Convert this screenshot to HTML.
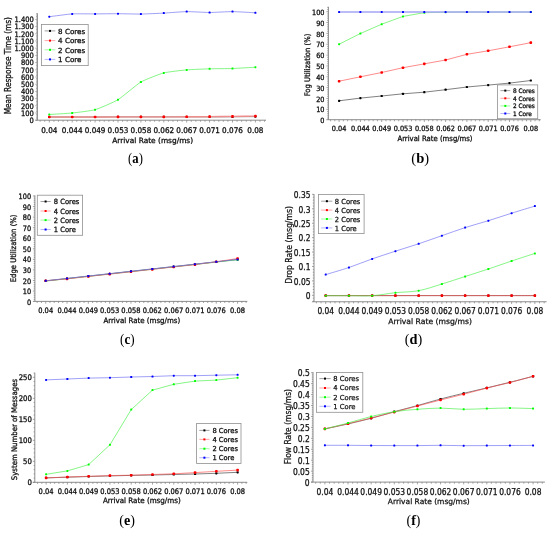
<!DOCTYPE html>
<html><head><meta charset="utf-8"><title>Figure</title>
<style>html,body{margin:0;padding:0;background:#fff;}svg{display:block;}</style>
</head><body>
<svg width="550" height="533" viewBox="0 0 550 533">
<rect width="550" height="533" fill="#fff"/>
<line x1="37.4" y1="13.3" x2="37.4" y2="120.2" stroke="#808080" stroke-width="0.9"/>
<line x1="35.4" y1="120.2" x2="266" y2="120.2" stroke="#808080" stroke-width="0.9"/>
<path d="M35.4,120.2h2 M36.2,118.76h1.2 M36.2,117.32h1.2 M36.2,115.88h1.2 M36.2,114.44h1.2 M35.4,113h2 M36.2,111.56h1.2 M36.2,110.12h1.2 M36.2,108.68h1.2 M36.2,107.24h1.2 M35.4,105.8h2 M36.2,104.36h1.2 M36.2,102.92h1.2 M36.2,101.48h1.2 M36.2,100.04h1.2 M35.4,98.6h2 M36.2,97.16h1.2 M36.2,95.72h1.2 M36.2,94.28h1.2 M36.2,92.84h1.2 M35.4,91.4h2 M36.2,89.96h1.2 M36.2,88.52h1.2 M36.2,87.08h1.2 M36.2,85.64h1.2 M35.4,84.2h2 M36.2,82.76h1.2 M36.2,81.32h1.2 M36.2,79.88h1.2 M36.2,78.44h1.2 M35.4,77h2 M36.2,75.56h1.2 M36.2,74.12h1.2 M36.2,72.68h1.2 M36.2,71.24h1.2 M35.4,69.8h2 M36.2,68.36h1.2 M36.2,66.92h1.2 M36.2,65.48h1.2 M36.2,64.04h1.2 M35.4,62.6h2 M36.2,61.16h1.2 M36.2,59.72h1.2 M36.2,58.28h1.2 M36.2,56.84h1.2 M35.4,55.4h2 M36.2,53.96h1.2 M36.2,52.52h1.2 M36.2,51.08h1.2 M36.2,49.64h1.2 M35.4,48.2h2 M36.2,46.76h1.2 M36.2,45.32h1.2 M36.2,43.88h1.2 M36.2,42.44h1.2 M35.4,41h2 M36.2,39.56h1.2 M36.2,38.12h1.2 M36.2,36.68h1.2 M36.2,35.24h1.2 M35.4,33.8h2 M36.2,32.36h1.2 M36.2,30.92h1.2 M36.2,29.48h1.2 M36.2,28.04h1.2 M35.4,26.6h2 M36.2,25.16h1.2 M36.2,23.72h1.2 M36.2,22.28h1.2 M36.2,20.84h1.2 M35.4,19.4h2 M36.2,17.96h1.2 M36.2,16.52h1.2 M36.2,15.08h1.2 M36.2,13.64h1.2 M40.14,120.2v1.6 M44.72,120.2v1.6 M49.3,120.2v2.3 M53.88,120.2v1.6 M58.46,120.2v1.6 M63.04,120.2v1.6 M67.62,120.2v1.6 M72.2,120.2v2.3 M76.78,120.2v1.6 M81.36,120.2v1.6 M85.94,120.2v1.6 M90.52,120.2v1.6 M95.1,120.2v2.3 M99.68,120.2v1.6 M104.26,120.2v1.6 M108.84,120.2v1.6 M113.42,120.2v1.6 M118,120.2v2.3 M122.58,120.2v1.6 M127.16,120.2v1.6 M131.74,120.2v1.6 M136.32,120.2v1.6 M140.9,120.2v2.3 M145.48,120.2v1.6 M150.06,120.2v1.6 M154.64,120.2v1.6 M159.22,120.2v1.6 M163.8,120.2v2.3 M168.38,120.2v1.6 M172.96,120.2v1.6 M177.54,120.2v1.6 M182.12,120.2v1.6 M186.7,120.2v2.3 M191.28,120.2v1.6 M195.86,120.2v1.6 M200.44,120.2v1.6 M205.02,120.2v1.6 M209.6,120.2v2.3 M214.18,120.2v1.6 M218.76,120.2v1.6 M223.34,120.2v1.6 M227.92,120.2v1.6 M232.5,120.2v2.3 M237.08,120.2v1.6 M241.66,120.2v1.6 M246.24,120.2v1.6 M250.82,120.2v1.6 M255.4,120.2v2.3 M259.98,120.2v1.6 M264.56,120.2v1.6" stroke="#808080" stroke-width="0.7" fill="none"/>
<text x="33.8" y="122.9" text-anchor="end" font-family="'DejaVu Sans Condensed', 'DejaVu Sans', sans-serif" font-size="7.5" fill="#111" stroke="#111" stroke-width="0.3" textLength="4.29" lengthAdjust="spacingAndGlyphs">0</text>
<text x="33.8" y="115.7" text-anchor="end" font-family="'DejaVu Sans Condensed', 'DejaVu Sans', sans-serif" font-size="7.5" fill="#111" stroke="#111" stroke-width="0.3" textLength="12.88" lengthAdjust="spacingAndGlyphs">100</text>
<text x="33.8" y="108.5" text-anchor="end" font-family="'DejaVu Sans Condensed', 'DejaVu Sans', sans-serif" font-size="7.5" fill="#111" stroke="#111" stroke-width="0.3" textLength="12.88" lengthAdjust="spacingAndGlyphs">200</text>
<text x="33.8" y="101.3" text-anchor="end" font-family="'DejaVu Sans Condensed', 'DejaVu Sans', sans-serif" font-size="7.5" fill="#111" stroke="#111" stroke-width="0.3" textLength="12.88" lengthAdjust="spacingAndGlyphs">300</text>
<text x="33.8" y="94.1" text-anchor="end" font-family="'DejaVu Sans Condensed', 'DejaVu Sans', sans-serif" font-size="7.5" fill="#111" stroke="#111" stroke-width="0.3" textLength="12.88" lengthAdjust="spacingAndGlyphs">400</text>
<text x="33.8" y="86.9" text-anchor="end" font-family="'DejaVu Sans Condensed', 'DejaVu Sans', sans-serif" font-size="7.5" fill="#111" stroke="#111" stroke-width="0.3" textLength="12.88" lengthAdjust="spacingAndGlyphs">500</text>
<text x="33.8" y="79.7" text-anchor="end" font-family="'DejaVu Sans Condensed', 'DejaVu Sans', sans-serif" font-size="7.5" fill="#111" stroke="#111" stroke-width="0.3" textLength="12.88" lengthAdjust="spacingAndGlyphs">600</text>
<text x="33.8" y="72.5" text-anchor="end" font-family="'DejaVu Sans Condensed', 'DejaVu Sans', sans-serif" font-size="7.5" fill="#111" stroke="#111" stroke-width="0.3" textLength="12.88" lengthAdjust="spacingAndGlyphs">700</text>
<text x="33.8" y="65.3" text-anchor="end" font-family="'DejaVu Sans Condensed', 'DejaVu Sans', sans-serif" font-size="7.5" fill="#111" stroke="#111" stroke-width="0.3" textLength="12.88" lengthAdjust="spacingAndGlyphs">800</text>
<text x="33.8" y="58.1" text-anchor="end" font-family="'DejaVu Sans Condensed', 'DejaVu Sans', sans-serif" font-size="7.5" fill="#111" stroke="#111" stroke-width="0.3" textLength="12.88" lengthAdjust="spacingAndGlyphs">900</text>
<text x="33.8" y="50.9" text-anchor="end" font-family="'DejaVu Sans Condensed', 'DejaVu Sans', sans-serif" font-size="7.5" fill="#111" stroke="#111" stroke-width="0.3" textLength="19.31" lengthAdjust="spacingAndGlyphs">1.000</text>
<text x="33.8" y="43.7" text-anchor="end" font-family="'DejaVu Sans Condensed', 'DejaVu Sans', sans-serif" font-size="7.5" fill="#111" stroke="#111" stroke-width="0.3" textLength="19.31" lengthAdjust="spacingAndGlyphs">1.100</text>
<text x="33.8" y="36.5" text-anchor="end" font-family="'DejaVu Sans Condensed', 'DejaVu Sans', sans-serif" font-size="7.5" fill="#111" stroke="#111" stroke-width="0.3" textLength="19.31" lengthAdjust="spacingAndGlyphs">1.200</text>
<text x="33.8" y="29.3" text-anchor="end" font-family="'DejaVu Sans Condensed', 'DejaVu Sans', sans-serif" font-size="7.5" fill="#111" stroke="#111" stroke-width="0.3" textLength="19.31" lengthAdjust="spacingAndGlyphs">1.300</text>
<text x="33.8" y="22.1" text-anchor="end" font-family="'DejaVu Sans Condensed', 'DejaVu Sans', sans-serif" font-size="7.5" fill="#111" stroke="#111" stroke-width="0.3" textLength="19.31" lengthAdjust="spacingAndGlyphs">1.400</text>
<text x="49.3" y="132.6" text-anchor="middle" font-family="'DejaVu Sans Condensed', 'DejaVu Sans', sans-serif" font-size="7.77" fill="#111" stroke="#111" stroke-width="0.3" textLength="16.12" lengthAdjust="spacingAndGlyphs">0.04</text>
<text x="72.2" y="132.6" text-anchor="middle" font-family="'DejaVu Sans Condensed', 'DejaVu Sans', sans-serif" font-size="7.77" fill="#111" stroke="#111" stroke-width="0.3" textLength="20.73" lengthAdjust="spacingAndGlyphs">0.044</text>
<text x="95.1" y="132.6" text-anchor="middle" font-family="'DejaVu Sans Condensed', 'DejaVu Sans', sans-serif" font-size="7.77" fill="#111" stroke="#111" stroke-width="0.3" textLength="20.73" lengthAdjust="spacingAndGlyphs">0.049</text>
<text x="118" y="132.6" text-anchor="middle" font-family="'DejaVu Sans Condensed', 'DejaVu Sans', sans-serif" font-size="7.77" fill="#111" stroke="#111" stroke-width="0.3" textLength="20.73" lengthAdjust="spacingAndGlyphs">0.053</text>
<text x="140.9" y="132.6" text-anchor="middle" font-family="'DejaVu Sans Condensed', 'DejaVu Sans', sans-serif" font-size="7.77" fill="#111" stroke="#111" stroke-width="0.3" textLength="20.73" lengthAdjust="spacingAndGlyphs">0.058</text>
<text x="163.8" y="132.6" text-anchor="middle" font-family="'DejaVu Sans Condensed', 'DejaVu Sans', sans-serif" font-size="7.77" fill="#111" stroke="#111" stroke-width="0.3" textLength="20.73" lengthAdjust="spacingAndGlyphs">0.062</text>
<text x="186.7" y="132.6" text-anchor="middle" font-family="'DejaVu Sans Condensed', 'DejaVu Sans', sans-serif" font-size="7.77" fill="#111" stroke="#111" stroke-width="0.3" textLength="20.73" lengthAdjust="spacingAndGlyphs">0.067</text>
<text x="209.6" y="132.6" text-anchor="middle" font-family="'DejaVu Sans Condensed', 'DejaVu Sans', sans-serif" font-size="7.77" fill="#111" stroke="#111" stroke-width="0.3" textLength="20.73" lengthAdjust="spacingAndGlyphs">0.071</text>
<text x="232.5" y="132.6" text-anchor="middle" font-family="'DejaVu Sans Condensed', 'DejaVu Sans', sans-serif" font-size="7.77" fill="#111" stroke="#111" stroke-width="0.3" textLength="20.73" lengthAdjust="spacingAndGlyphs">0.076</text>
<text x="255.4" y="132.6" text-anchor="middle" font-family="'DejaVu Sans Condensed', 'DejaVu Sans', sans-serif" font-size="7.77" fill="#111" stroke="#111" stroke-width="0.3" textLength="16.12" lengthAdjust="spacingAndGlyphs">0.08</text>
<text x="152.7" y="143" text-anchor="middle" font-family="'DejaVu Sans', sans-serif" font-size="7.4" fill="#111" stroke="#111" stroke-width="0.3" textLength="80.81" lengthAdjust="spacingAndGlyphs">Arrival Rate (msg/ms)</text>
<text transform="translate(10.6,65.7) rotate(-90)" x="0" y="0" text-anchor="middle" font-family="'DejaVu Sans', sans-serif" font-size="8" fill="#111" stroke="#111" stroke-width="0.3" textLength="97.18" lengthAdjust="spacingAndGlyphs">Mean Response Time (ms)</text>
<text x="128.1" y="163" font-family="'Liberation Serif', 'DejaVu Serif', serif" font-size="14.3" fill="#000" textLength="14.8" lengthAdjust="spacingAndGlyphs">(<tspan font-weight="bold">a</tspan>)</text>
<path d="M49.3,117 C51.21,117 68.38,117 72.2,117 C76.02,117 91.28,117.01 95.1,117 C98.92,116.99 114.18,116.91 118,116.9 C121.82,116.89 137.08,116.9 140.9,116.9 C144.72,116.9 159.98,116.9 163.8,116.9 C167.62,116.9 182.88,116.85 186.7,116.85 C190.52,116.85 205.78,116.9 209.6,116.9 C213.42,116.9 228.68,116.83 232.5,116.8 C236.32,116.77 253.49,116.62 255.4,116.6" stroke="#383838" stroke-width="0.8" fill="none" stroke-opacity="0.8"/>
<rect x="48.2" y="115.9" width="2.2" height="2.2" fill="#000000" rx="0.66"/>
<rect x="71.1" y="115.9" width="2.2" height="2.2" fill="#000000" rx="0.66"/>
<rect x="94" y="115.9" width="2.2" height="2.2" fill="#000000" rx="0.66"/>
<rect x="116.9" y="115.8" width="2.2" height="2.2" fill="#000000" rx="0.66"/>
<rect x="139.8" y="115.8" width="2.2" height="2.2" fill="#000000" rx="0.66"/>
<rect x="162.7" y="115.8" width="2.2" height="2.2" fill="#000000" rx="0.66"/>
<rect x="185.6" y="115.75" width="2.2" height="2.2" fill="#000000" rx="0.66"/>
<rect x="208.5" y="115.8" width="2.2" height="2.2" fill="#000000" rx="0.66"/>
<rect x="231.4" y="115.7" width="2.2" height="2.2" fill="#000000" rx="0.66"/>
<rect x="254.3" y="115.5" width="2.2" height="2.2" fill="#000000" rx="0.66"/>
<path d="M49.3,117 C51.21,117 68.38,117 72.2,117 C76.02,117 91.28,117.01 95.1,117 C98.92,116.99 114.18,116.91 118,116.9 C121.82,116.89 137.08,116.9 140.9,116.9 C144.72,116.9 159.98,116.91 163.8,116.9 C167.62,116.89 182.88,116.83 186.7,116.8 C190.52,116.77 205.78,116.63 209.6,116.6 C213.42,116.57 228.68,116.44 232.5,116.4 C236.32,116.36 253.49,116.12 255.4,116.1" stroke="#f08c8c" stroke-width="1.4" fill="none" stroke-opacity="1.0"/>
<rect x="48" y="115.7" width="2.6" height="2.6" fill="#ff0000" rx="0.78"/>
<rect x="70.9" y="115.7" width="2.6" height="2.6" fill="#ff0000" rx="0.78"/>
<rect x="93.8" y="115.7" width="2.6" height="2.6" fill="#ff0000" rx="0.78"/>
<rect x="116.7" y="115.6" width="2.6" height="2.6" fill="#ff0000" rx="0.78"/>
<rect x="139.6" y="115.6" width="2.6" height="2.6" fill="#ff0000" rx="0.78"/>
<rect x="162.5" y="115.6" width="2.6" height="2.6" fill="#ff0000" rx="0.78"/>
<rect x="185.4" y="115.5" width="2.6" height="2.6" fill="#ff0000" rx="0.78"/>
<rect x="208.3" y="115.3" width="2.6" height="2.6" fill="#ff0000" rx="0.78"/>
<rect x="231.2" y="115.1" width="2.6" height="2.6" fill="#ff0000" rx="0.78"/>
<rect x="254.1" y="114.8" width="2.6" height="2.6" fill="#ff0000" rx="0.78"/>
<path d="M49.3,114.5 C51.21,114.38 68.38,113.4 72.2,113 C76.02,112.6 91.28,110.81 95.1,109.7 C98.92,108.59 114.18,102.01 118,99.7 C121.82,97.39 137.08,84.23 140.9,82 C144.72,79.77 159.98,73.91 163.8,72.9 C167.62,71.89 182.88,70.24 186.7,69.9 C190.52,69.56 205.78,68.92 209.6,68.8 C213.42,68.68 228.68,68.63 232.5,68.5 C236.32,68.37 253.49,67.31 255.4,67.2" stroke="#40f040" stroke-width="0.8" fill="none" stroke-opacity="0.8"/>
<rect x="48.3" y="113.5" width="2" height="2" fill="#00ff00" rx="0.6"/>
<rect x="71.2" y="112" width="2" height="2" fill="#00ff00" rx="0.6"/>
<rect x="94.1" y="108.7" width="2" height="2" fill="#00ff00" rx="0.6"/>
<rect x="117" y="98.7" width="2" height="2" fill="#00ff00" rx="0.6"/>
<rect x="139.9" y="81" width="2" height="2" fill="#00ff00" rx="0.6"/>
<rect x="162.8" y="71.9" width="2" height="2" fill="#00ff00" rx="0.6"/>
<rect x="185.7" y="68.9" width="2" height="2" fill="#00ff00" rx="0.6"/>
<rect x="208.6" y="67.8" width="2" height="2" fill="#00ff00" rx="0.6"/>
<rect x="231.5" y="67.5" width="2" height="2" fill="#00ff00" rx="0.6"/>
<rect x="254.4" y="66.2" width="2" height="2" fill="#00ff00" rx="0.6"/>
<path d="M49.3,16.7 C51.21,16.47 68.38,14.13 72.2,13.9 C76.02,13.67 91.28,13.92 95.1,13.9 C98.92,13.88 114.18,13.69 118,13.7 C121.82,13.71 137.08,14.1 140.9,14.05 C144.72,14 159.98,13.3 163.8,13.1 C167.62,12.9 182.88,11.65 186.7,11.6 C190.52,11.55 205.78,12.5 209.6,12.5 C213.42,12.5 228.68,11.57 232.5,11.6 C236.32,11.62 253.49,12.7 255.4,12.8" stroke="#6a6af2" stroke-width="0.8" fill="none" stroke-opacity="0.8"/>
<rect x="48.3" y="15.7" width="2" height="2" fill="#0000ff" rx="0.6"/>
<rect x="71.2" y="12.9" width="2" height="2" fill="#0000ff" rx="0.6"/>
<rect x="94.1" y="12.9" width="2" height="2" fill="#0000ff" rx="0.6"/>
<rect x="117" y="12.7" width="2" height="2" fill="#0000ff" rx="0.6"/>
<rect x="139.9" y="13.05" width="2" height="2" fill="#0000ff" rx="0.6"/>
<rect x="162.8" y="12.1" width="2" height="2" fill="#0000ff" rx="0.6"/>
<rect x="185.7" y="10.6" width="2" height="2" fill="#0000ff" rx="0.6"/>
<rect x="208.6" y="11.5" width="2" height="2" fill="#0000ff" rx="0.6"/>
<rect x="231.5" y="10.6" width="2" height="2" fill="#0000ff" rx="0.6"/>
<rect x="254.4" y="11.8" width="2" height="2" fill="#0000ff" rx="0.6"/>
<rect x="41.4" y="24.5" width="46.8" height="41.1" fill="#fff" stroke="#909090" stroke-width="0.8"/>
<line x1="44.6" y1="30.9" x2="55.3" y2="30.9" stroke="#383838" stroke-width="0.8" stroke-opacity="0.6"/>
<rect x="49" y="29.9" width="2" height="2" fill="#000000"/>
<text x="58.1" y="33.67" text-anchor="start" font-family="'DejaVu Sans', sans-serif" font-size="7" fill="#111" stroke="#111" stroke-width="0.3" textLength="27.06" lengthAdjust="spacingAndGlyphs">8 Cores</text>
<line x1="44.6" y1="40.6" x2="55.3" y2="40.6" stroke="#ff4848" stroke-width="0.8" stroke-opacity="0.6"/>
<rect x="49" y="39.6" width="2" height="2" fill="#ff0000"/>
<text x="58.1" y="43.37" text-anchor="start" font-family="'DejaVu Sans', sans-serif" font-size="7" fill="#111" stroke="#111" stroke-width="0.3" textLength="27.06" lengthAdjust="spacingAndGlyphs">4 Cores</text>
<line x1="44.6" y1="49.8" x2="55.3" y2="49.8" stroke="#40f040" stroke-width="0.8" stroke-opacity="0.6"/>
<rect x="49" y="48.8" width="2" height="2" fill="#00ff00"/>
<text x="58.1" y="52.57" text-anchor="start" font-family="'DejaVu Sans', sans-serif" font-size="7" fill="#111" stroke="#111" stroke-width="0.3" textLength="27.06" lengthAdjust="spacingAndGlyphs">2 Cores</text>
<line x1="44.6" y1="59.4" x2="55.3" y2="59.4" stroke="#6a6af2" stroke-width="0.8" stroke-opacity="0.6"/>
<rect x="49" y="58.4" width="2" height="2" fill="#0000ff"/>
<text x="58.1" y="62.17" text-anchor="start" font-family="'DejaVu Sans', sans-serif" font-size="7" fill="#111" stroke="#111" stroke-width="0.3" textLength="23.34" lengthAdjust="spacingAndGlyphs">1 Core</text>
<line x1="328.4" y1="6.8" x2="328.4" y2="119.7" stroke="#808080" stroke-width="0.9"/>
<line x1="326.4" y1="119.7" x2="540.7" y2="119.7" stroke="#808080" stroke-width="0.9"/>
<path d="M327.2,118.03h1.2 M327.2,115.86h1.2 M327.2,113.69h1.2 M327.2,111.52h1.2 M326.4,109.35h2 M327.2,107.18h1.2 M327.2,105.01h1.2 M327.2,102.84h1.2 M327.2,100.67h1.2 M326.4,98.5h2 M327.2,96.33h1.2 M327.2,94.16h1.2 M327.2,91.99h1.2 M327.2,89.82h1.2 M326.4,87.65h2 M327.2,85.48h1.2 M327.2,83.31h1.2 M327.2,81.14h1.2 M327.2,78.97h1.2 M326.4,76.8h2 M327.2,74.63h1.2 M327.2,72.46h1.2 M327.2,70.29h1.2 M327.2,68.12h1.2 M326.4,65.95h2 M327.2,63.78h1.2 M327.2,61.61h1.2 M327.2,59.44h1.2 M327.2,57.27h1.2 M326.4,55.1h2 M327.2,52.93h1.2 M327.2,50.76h1.2 M327.2,48.59h1.2 M327.2,46.42h1.2 M326.4,44.25h2 M327.2,42.08h1.2 M327.2,39.91h1.2 M327.2,37.74h1.2 M327.2,35.57h1.2 M326.4,33.4h2 M327.2,31.23h1.2 M327.2,29.06h1.2 M327.2,26.89h1.2 M327.2,24.72h1.2 M326.4,22.55h2 M327.2,20.38h1.2 M327.2,18.21h1.2 M327.2,16.04h1.2 M327.2,13.87h1.2 M326.4,11.7h2 M327.2,9.53h1.2 M327.2,7.36h1.2 M330.58,119.7v1.6 M334.84,119.7v1.6 M339.1,119.7v2.3 M343.36,119.7v1.6 M347.62,119.7v1.6 M351.88,119.7v1.6 M356.14,119.7v1.6 M360.4,119.7v2.3 M364.66,119.7v1.6 M368.92,119.7v1.6 M373.18,119.7v1.6 M377.44,119.7v1.6 M381.7,119.7v2.3 M385.96,119.7v1.6 M390.22,119.7v1.6 M394.48,119.7v1.6 M398.74,119.7v1.6 M403,119.7v2.3 M407.26,119.7v1.6 M411.52,119.7v1.6 M415.78,119.7v1.6 M420.04,119.7v1.6 M424.3,119.7v2.3 M428.56,119.7v1.6 M432.82,119.7v1.6 M437.08,119.7v1.6 M441.34,119.7v1.6 M445.6,119.7v2.3 M449.86,119.7v1.6 M454.12,119.7v1.6 M458.38,119.7v1.6 M462.64,119.7v1.6 M466.9,119.7v2.3 M471.16,119.7v1.6 M475.42,119.7v1.6 M479.68,119.7v1.6 M483.94,119.7v1.6 M488.2,119.7v2.3 M492.46,119.7v1.6 M496.72,119.7v1.6 M500.98,119.7v1.6 M505.24,119.7v1.6 M509.5,119.7v2.3 M513.76,119.7v1.6 M518.02,119.7v1.6 M522.28,119.7v1.6 M526.54,119.7v1.6 M530.8,119.7v2.3 M535.06,119.7v1.6 M539.32,119.7v1.6" stroke="#808080" stroke-width="0.7" fill="none"/>
<text x="324.5" y="123.31" text-anchor="end" font-family="'DejaVu Sans Condensed', 'DejaVu Sans', sans-serif" font-size="7.25" fill="#111" stroke="#111" stroke-width="0.3" textLength="4.15" lengthAdjust="spacingAndGlyphs">0</text>
<text x="324.5" y="112.46" text-anchor="end" font-family="'DejaVu Sans Condensed', 'DejaVu Sans', sans-serif" font-size="7.25" fill="#111" stroke="#111" stroke-width="0.3" textLength="8.3" lengthAdjust="spacingAndGlyphs">10</text>
<text x="324.5" y="101.61" text-anchor="end" font-family="'DejaVu Sans Condensed', 'DejaVu Sans', sans-serif" font-size="7.25" fill="#111" stroke="#111" stroke-width="0.3" textLength="8.3" lengthAdjust="spacingAndGlyphs">20</text>
<text x="324.5" y="90.76" text-anchor="end" font-family="'DejaVu Sans Condensed', 'DejaVu Sans', sans-serif" font-size="7.25" fill="#111" stroke="#111" stroke-width="0.3" textLength="8.3" lengthAdjust="spacingAndGlyphs">30</text>
<text x="324.5" y="79.91" text-anchor="end" font-family="'DejaVu Sans Condensed', 'DejaVu Sans', sans-serif" font-size="7.25" fill="#111" stroke="#111" stroke-width="0.3" textLength="8.3" lengthAdjust="spacingAndGlyphs">40</text>
<text x="324.5" y="69.06" text-anchor="end" font-family="'DejaVu Sans Condensed', 'DejaVu Sans', sans-serif" font-size="7.25" fill="#111" stroke="#111" stroke-width="0.3" textLength="8.3" lengthAdjust="spacingAndGlyphs">50</text>
<text x="324.5" y="58.21" text-anchor="end" font-family="'DejaVu Sans Condensed', 'DejaVu Sans', sans-serif" font-size="7.25" fill="#111" stroke="#111" stroke-width="0.3" textLength="8.3" lengthAdjust="spacingAndGlyphs">60</text>
<text x="324.5" y="47.36" text-anchor="end" font-family="'DejaVu Sans Condensed', 'DejaVu Sans', sans-serif" font-size="7.25" fill="#111" stroke="#111" stroke-width="0.3" textLength="8.3" lengthAdjust="spacingAndGlyphs">70</text>
<text x="324.5" y="36.51" text-anchor="end" font-family="'DejaVu Sans Condensed', 'DejaVu Sans', sans-serif" font-size="7.25" fill="#111" stroke="#111" stroke-width="0.3" textLength="8.3" lengthAdjust="spacingAndGlyphs">80</text>
<text x="324.5" y="25.66" text-anchor="end" font-family="'DejaVu Sans Condensed', 'DejaVu Sans', sans-serif" font-size="7.25" fill="#111" stroke="#111" stroke-width="0.3" textLength="8.3" lengthAdjust="spacingAndGlyphs">90</text>
<text x="324.5" y="14.81" text-anchor="end" font-family="'DejaVu Sans Condensed', 'DejaVu Sans', sans-serif" font-size="7.25" fill="#111" stroke="#111" stroke-width="0.3" textLength="12.45" lengthAdjust="spacingAndGlyphs">100</text>
<text x="339.1" y="130.7" text-anchor="middle" font-family="'DejaVu Sans Condensed', 'DejaVu Sans', sans-serif" font-size="7.25" fill="#111" stroke="#111" stroke-width="0.3" textLength="14.52" lengthAdjust="spacingAndGlyphs">0.04</text>
<text x="360.4" y="130.7" text-anchor="middle" font-family="'DejaVu Sans Condensed', 'DejaVu Sans', sans-serif" font-size="7.25" fill="#111" stroke="#111" stroke-width="0.3" textLength="18.67" lengthAdjust="spacingAndGlyphs">0.044</text>
<text x="381.7" y="130.7" text-anchor="middle" font-family="'DejaVu Sans Condensed', 'DejaVu Sans', sans-serif" font-size="7.25" fill="#111" stroke="#111" stroke-width="0.3" textLength="18.67" lengthAdjust="spacingAndGlyphs">0.049</text>
<text x="403" y="130.7" text-anchor="middle" font-family="'DejaVu Sans Condensed', 'DejaVu Sans', sans-serif" font-size="7.25" fill="#111" stroke="#111" stroke-width="0.3" textLength="18.67" lengthAdjust="spacingAndGlyphs">0.053</text>
<text x="424.3" y="130.7" text-anchor="middle" font-family="'DejaVu Sans Condensed', 'DejaVu Sans', sans-serif" font-size="7.25" fill="#111" stroke="#111" stroke-width="0.3" textLength="18.67" lengthAdjust="spacingAndGlyphs">0.058</text>
<text x="445.6" y="130.7" text-anchor="middle" font-family="'DejaVu Sans Condensed', 'DejaVu Sans', sans-serif" font-size="7.25" fill="#111" stroke="#111" stroke-width="0.3" textLength="18.67" lengthAdjust="spacingAndGlyphs">0.062</text>
<text x="466.9" y="130.7" text-anchor="middle" font-family="'DejaVu Sans Condensed', 'DejaVu Sans', sans-serif" font-size="7.25" fill="#111" stroke="#111" stroke-width="0.3" textLength="18.67" lengthAdjust="spacingAndGlyphs">0.067</text>
<text x="488.2" y="130.7" text-anchor="middle" font-family="'DejaVu Sans Condensed', 'DejaVu Sans', sans-serif" font-size="7.25" fill="#111" stroke="#111" stroke-width="0.3" textLength="18.67" lengthAdjust="spacingAndGlyphs">0.071</text>
<text x="509.5" y="130.7" text-anchor="middle" font-family="'DejaVu Sans Condensed', 'DejaVu Sans', sans-serif" font-size="7.25" fill="#111" stroke="#111" stroke-width="0.3" textLength="18.67" lengthAdjust="spacingAndGlyphs">0.076</text>
<text x="530.8" y="130.7" text-anchor="middle" font-family="'DejaVu Sans Condensed', 'DejaVu Sans', sans-serif" font-size="7.25" fill="#111" stroke="#111" stroke-width="0.3" textLength="14.52" lengthAdjust="spacingAndGlyphs">0.08</text>
<text x="435" y="140.6" text-anchor="middle" font-family="'DejaVu Sans', sans-serif" font-size="7.4" fill="#111" stroke="#111" stroke-width="0.3" textLength="75.15" lengthAdjust="spacingAndGlyphs">Arrival Rate (msg/ms)</text>
<text transform="translate(309.7,65) rotate(-90)" x="0" y="0" text-anchor="middle" font-family="'DejaVu Sans', sans-serif" font-size="7.6" fill="#111" stroke="#111" stroke-width="0.3" textLength="62.68" lengthAdjust="spacingAndGlyphs">Fog Utilization (%)</text>
<text x="411.3" y="163" font-family="'Liberation Serif', 'DejaVu Serif', serif" font-size="14.3" fill="#000" textLength="17.8" lengthAdjust="spacingAndGlyphs">(<tspan font-weight="bold">b</tspan>)</text>
<path d="M339.1,100.8 L360.4,98.1 L381.7,96 L403,93.8 L424.3,92.2 L445.6,89.7 L466.9,87 L488.2,85.1 L509.5,83.1 L530.8,80.5" stroke="#383838" stroke-width="0.8" fill="none" stroke-opacity="0.8"/>
<rect x="338" y="99.7" width="2.2" height="2.2" fill="#000000" rx="0.66"/>
<rect x="359.3" y="97" width="2.2" height="2.2" fill="#000000" rx="0.66"/>
<rect x="380.6" y="94.9" width="2.2" height="2.2" fill="#000000" rx="0.66"/>
<rect x="401.9" y="92.7" width="2.2" height="2.2" fill="#000000" rx="0.66"/>
<rect x="423.2" y="91.1" width="2.2" height="2.2" fill="#000000" rx="0.66"/>
<rect x="444.5" y="88.6" width="2.2" height="2.2" fill="#000000" rx="0.66"/>
<rect x="465.8" y="85.9" width="2.2" height="2.2" fill="#000000" rx="0.66"/>
<rect x="487.1" y="84" width="2.2" height="2.2" fill="#000000" rx="0.66"/>
<rect x="508.4" y="82" width="2.2" height="2.2" fill="#000000" rx="0.66"/>
<rect x="529.7" y="79.4" width="2.2" height="2.2" fill="#000000" rx="0.66"/>
<path d="M339.1,81.2 L360.4,76.8 L381.7,72.5 L403,67.7 L424.3,63.85 L445.6,60 L466.9,54.3 L488.2,50.8 L509.5,46.8 L530.8,42.65" stroke="#ff4848" stroke-width="0.8" fill="none" stroke-opacity="0.8"/>
<rect x="337.8" y="79.9" width="2.6" height="2.6" fill="#ff0000" rx="0.78"/>
<rect x="359.1" y="75.5" width="2.6" height="2.6" fill="#ff0000" rx="0.78"/>
<rect x="380.4" y="71.2" width="2.6" height="2.6" fill="#ff0000" rx="0.78"/>
<rect x="401.7" y="66.4" width="2.6" height="2.6" fill="#ff0000" rx="0.78"/>
<rect x="423" y="62.55" width="2.6" height="2.6" fill="#ff0000" rx="0.78"/>
<rect x="444.3" y="58.7" width="2.6" height="2.6" fill="#ff0000" rx="0.78"/>
<rect x="465.6" y="53" width="2.6" height="2.6" fill="#ff0000" rx="0.78"/>
<rect x="486.9" y="49.5" width="2.6" height="2.6" fill="#ff0000" rx="0.78"/>
<rect x="508.2" y="45.5" width="2.6" height="2.6" fill="#ff0000" rx="0.78"/>
<rect x="529.5" y="41.35" width="2.6" height="2.6" fill="#ff0000" rx="0.78"/>
<path d="M339.1,44.2 L360.4,33.5 L381.7,24.2 L403,16.4 L424.3,12.7 L445.6,12.2 L466.9,12.05 L488.2,12.05 L509.5,12.05 L530.8,12.05" stroke="#40f040" stroke-width="0.8" fill="none" stroke-opacity="0.8"/>
<rect x="338.1" y="43.2" width="2" height="2" fill="#00ff00" rx="0.6"/>
<rect x="359.4" y="32.5" width="2" height="2" fill="#00ff00" rx="0.6"/>
<rect x="380.7" y="23.2" width="2" height="2" fill="#00ff00" rx="0.6"/>
<rect x="402" y="15.4" width="2" height="2" fill="#00ff00" rx="0.6"/>
<rect x="423.3" y="11.7" width="2" height="2" fill="#00ff00" rx="0.6"/>
<rect x="444.6" y="11.2" width="2" height="2" fill="#00ff00" rx="0.6"/>
<rect x="465.9" y="11.05" width="2" height="2" fill="#00ff00" rx="0.6"/>
<rect x="487.2" y="11.05" width="2" height="2" fill="#00ff00" rx="0.6"/>
<rect x="508.5" y="11.05" width="2" height="2" fill="#00ff00" rx="0.6"/>
<rect x="529.8" y="11.05" width="2" height="2" fill="#00ff00" rx="0.6"/>
<path d="M339.1,12.05 L360.4,12.05 L381.7,12.05 L403,12.05 L424.3,12.05 L445.6,12.05 L466.9,12.05 L488.2,12.05 L509.5,12.05 L530.8,12.05" stroke="#a4a4f6" stroke-width="1.5" fill="none" stroke-opacity="1.0"/>
<rect x="338.1" y="11.05" width="2" height="2" fill="#0000ff" rx="0.6"/>
<rect x="359.4" y="11.05" width="2" height="2" fill="#0000ff" rx="0.6"/>
<rect x="380.7" y="11.05" width="2" height="2" fill="#0000ff" rx="0.6"/>
<rect x="402" y="11.05" width="2" height="2" fill="#0000ff" rx="0.6"/>
<rect x="423.3" y="11.05" width="2" height="2" fill="#0000ff" rx="0.6"/>
<rect x="444.6" y="11.05" width="2" height="2" fill="#0000ff" rx="0.6"/>
<rect x="465.9" y="11.05" width="2" height="2" fill="#0000ff" rx="0.6"/>
<rect x="487.2" y="11.05" width="2" height="2" fill="#0000ff" rx="0.6"/>
<rect x="508.5" y="11.05" width="2" height="2" fill="#0000ff" rx="0.6"/>
<rect x="529.8" y="11.05" width="2" height="2" fill="#0000ff" rx="0.6"/>
<rect x="497.4" y="84.9" width="40.3" height="33.8" fill="#fff" stroke="#909090" stroke-width="0.8"/>
<line x1="500.4" y1="90.6" x2="510.2" y2="90.6" stroke="#383838" stroke-width="0.8" stroke-opacity="0.6"/>
<rect x="504.3" y="89.6" width="2" height="2" fill="#000000"/>
<text x="512.9" y="92.9" text-anchor="start" font-family="'DejaVu Sans', sans-serif" font-size="6.1" fill="#111" stroke="#111" stroke-width="0.3" textLength="21.96" lengthAdjust="spacingAndGlyphs">8 Cores</text>
<line x1="500.4" y1="98.3" x2="510.2" y2="98.3" stroke="#ff4848" stroke-width="0.8" stroke-opacity="0.6"/>
<rect x="504.3" y="97.3" width="2" height="2" fill="#ff0000"/>
<text x="512.9" y="100.6" text-anchor="start" font-family="'DejaVu Sans', sans-serif" font-size="6.1" fill="#111" stroke="#111" stroke-width="0.3" textLength="21.96" lengthAdjust="spacingAndGlyphs">4 Cores</text>
<line x1="500.4" y1="105.9" x2="510.2" y2="105.9" stroke="#40f040" stroke-width="0.8" stroke-opacity="0.6"/>
<rect x="504.3" y="104.9" width="2" height="2" fill="#00ff00"/>
<text x="512.9" y="108.2" text-anchor="start" font-family="'DejaVu Sans', sans-serif" font-size="6.1" fill="#111" stroke="#111" stroke-width="0.3" textLength="21.96" lengthAdjust="spacingAndGlyphs">2 Cores</text>
<line x1="500.4" y1="113.5" x2="510.2" y2="113.5" stroke="#6a6af2" stroke-width="0.8" stroke-opacity="0.6"/>
<rect x="504.3" y="112.5" width="2" height="2" fill="#0000ff"/>
<text x="512.9" y="115.8" text-anchor="start" font-family="'DejaVu Sans', sans-serif" font-size="6.1" fill="#111" stroke="#111" stroke-width="0.3" textLength="18.94" lengthAdjust="spacingAndGlyphs">1 Core</text>
<line x1="34.9" y1="195.3" x2="34.9" y2="301.4" stroke="#808080" stroke-width="0.9"/>
<line x1="32.9" y1="301.4" x2="247.3" y2="301.4" stroke="#808080" stroke-width="0.9"/>
<path d="M33.7,299.49h1.2 M33.7,297.38h1.2 M33.7,295.26h1.2 M33.7,293.15h1.2 M32.9,291.04h2 M33.7,288.93h1.2 M33.7,286.82h1.2 M33.7,284.7h1.2 M33.7,282.59h1.2 M32.9,280.48h2 M33.7,278.37h1.2 M33.7,276.26h1.2 M33.7,274.14h1.2 M33.7,272.03h1.2 M32.9,269.92h2 M33.7,267.81h1.2 M33.7,265.7h1.2 M33.7,263.58h1.2 M33.7,261.47h1.2 M32.9,259.36h2 M33.7,257.25h1.2 M33.7,255.14h1.2 M33.7,253.02h1.2 M33.7,250.91h1.2 M32.9,248.8h2 M33.7,246.69h1.2 M33.7,244.58h1.2 M33.7,242.46h1.2 M33.7,240.35h1.2 M32.9,238.24h2 M33.7,236.13h1.2 M33.7,234.02h1.2 M33.7,231.9h1.2 M33.7,229.79h1.2 M32.9,227.68h2 M33.7,225.57h1.2 M33.7,223.46h1.2 M33.7,221.34h1.2 M33.7,219.23h1.2 M32.9,217.12h2 M33.7,215.01h1.2 M33.7,212.9h1.2 M33.7,210.78h1.2 M33.7,208.67h1.2 M32.9,206.56h2 M33.7,204.45h1.2 M33.7,202.34h1.2 M33.7,200.22h1.2 M33.7,198.11h1.2 M32.9,196h2 M37.17,301.4v1.6 M41.44,301.4v1.6 M45.7,301.4v2.3 M49.96,301.4v1.6 M54.23,301.4v1.6 M58.49,301.4v1.6 M62.76,301.4v1.6 M67.02,301.4v2.3 M71.28,301.4v1.6 M75.55,301.4v1.6 M79.81,301.4v1.6 M84.08,301.4v1.6 M88.34,301.4v2.3 M92.6,301.4v1.6 M96.87,301.4v1.6 M101.13,301.4v1.6 M105.4,301.4v1.6 M109.66,301.4v2.3 M113.92,301.4v1.6 M118.19,301.4v1.6 M122.45,301.4v1.6 M126.72,301.4v1.6 M130.98,301.4v2.3 M135.24,301.4v1.6 M139.51,301.4v1.6 M143.77,301.4v1.6 M148.04,301.4v1.6 M152.3,301.4v2.3 M156.56,301.4v1.6 M160.83,301.4v1.6 M165.09,301.4v1.6 M169.36,301.4v1.6 M173.62,301.4v2.3 M177.88,301.4v1.6 M182.15,301.4v1.6 M186.41,301.4v1.6 M190.68,301.4v1.6 M194.94,301.4v2.3 M199.2,301.4v1.6 M203.47,301.4v1.6 M207.73,301.4v1.6 M212,301.4v1.6 M216.26,301.4v2.3 M220.52,301.4v1.6 M224.79,301.4v1.6 M229.05,301.4v1.6 M233.32,301.4v1.6 M237.58,301.4v2.3 M241.84,301.4v1.6 M246.11,301.4v1.6" stroke="#808080" stroke-width="0.7" fill="none"/>
<text x="31.1" y="304.68" text-anchor="end" font-family="'DejaVu Sans Condensed', 'DejaVu Sans', sans-serif" font-size="7.45" fill="#111" stroke="#111" stroke-width="0.3" textLength="4.18" lengthAdjust="spacingAndGlyphs">0</text>
<text x="31.1" y="294.12" text-anchor="end" font-family="'DejaVu Sans Condensed', 'DejaVu Sans', sans-serif" font-size="7.45" fill="#111" stroke="#111" stroke-width="0.3" textLength="8.36" lengthAdjust="spacingAndGlyphs">10</text>
<text x="31.1" y="283.56" text-anchor="end" font-family="'DejaVu Sans Condensed', 'DejaVu Sans', sans-serif" font-size="7.45" fill="#111" stroke="#111" stroke-width="0.3" textLength="8.36" lengthAdjust="spacingAndGlyphs">20</text>
<text x="31.1" y="273" text-anchor="end" font-family="'DejaVu Sans Condensed', 'DejaVu Sans', sans-serif" font-size="7.45" fill="#111" stroke="#111" stroke-width="0.3" textLength="8.36" lengthAdjust="spacingAndGlyphs">30</text>
<text x="31.1" y="262.44" text-anchor="end" font-family="'DejaVu Sans Condensed', 'DejaVu Sans', sans-serif" font-size="7.45" fill="#111" stroke="#111" stroke-width="0.3" textLength="8.36" lengthAdjust="spacingAndGlyphs">40</text>
<text x="31.1" y="251.88" text-anchor="end" font-family="'DejaVu Sans Condensed', 'DejaVu Sans', sans-serif" font-size="7.45" fill="#111" stroke="#111" stroke-width="0.3" textLength="8.36" lengthAdjust="spacingAndGlyphs">50</text>
<text x="31.1" y="241.32" text-anchor="end" font-family="'DejaVu Sans Condensed', 'DejaVu Sans', sans-serif" font-size="7.45" fill="#111" stroke="#111" stroke-width="0.3" textLength="8.36" lengthAdjust="spacingAndGlyphs">60</text>
<text x="31.1" y="230.76" text-anchor="end" font-family="'DejaVu Sans Condensed', 'DejaVu Sans', sans-serif" font-size="7.45" fill="#111" stroke="#111" stroke-width="0.3" textLength="8.36" lengthAdjust="spacingAndGlyphs">70</text>
<text x="31.1" y="220.2" text-anchor="end" font-family="'DejaVu Sans Condensed', 'DejaVu Sans', sans-serif" font-size="7.45" fill="#111" stroke="#111" stroke-width="0.3" textLength="8.36" lengthAdjust="spacingAndGlyphs">80</text>
<text x="31.1" y="209.64" text-anchor="end" font-family="'DejaVu Sans Condensed', 'DejaVu Sans', sans-serif" font-size="7.45" fill="#111" stroke="#111" stroke-width="0.3" textLength="8.36" lengthAdjust="spacingAndGlyphs">90</text>
<text x="31.1" y="199.08" text-anchor="end" font-family="'DejaVu Sans Condensed', 'DejaVu Sans', sans-serif" font-size="7.45" fill="#111" stroke="#111" stroke-width="0.3" textLength="12.53" lengthAdjust="spacingAndGlyphs">100</text>
<text x="45.7" y="313.4" text-anchor="middle" font-family="'DejaVu Sans Condensed', 'DejaVu Sans', sans-serif" font-size="7.45" fill="#111" stroke="#111" stroke-width="0.3" textLength="14.92" lengthAdjust="spacingAndGlyphs">0.04</text>
<text x="67.02" y="313.4" text-anchor="middle" font-family="'DejaVu Sans Condensed', 'DejaVu Sans', sans-serif" font-size="7.45" fill="#111" stroke="#111" stroke-width="0.3" textLength="19.18" lengthAdjust="spacingAndGlyphs">0.044</text>
<text x="88.34" y="313.4" text-anchor="middle" font-family="'DejaVu Sans Condensed', 'DejaVu Sans', sans-serif" font-size="7.45" fill="#111" stroke="#111" stroke-width="0.3" textLength="19.18" lengthAdjust="spacingAndGlyphs">0.049</text>
<text x="109.66" y="313.4" text-anchor="middle" font-family="'DejaVu Sans Condensed', 'DejaVu Sans', sans-serif" font-size="7.45" fill="#111" stroke="#111" stroke-width="0.3" textLength="19.18" lengthAdjust="spacingAndGlyphs">0.053</text>
<text x="130.98" y="313.4" text-anchor="middle" font-family="'DejaVu Sans Condensed', 'DejaVu Sans', sans-serif" font-size="7.45" fill="#111" stroke="#111" stroke-width="0.3" textLength="19.18" lengthAdjust="spacingAndGlyphs">0.058</text>
<text x="152.3" y="313.4" text-anchor="middle" font-family="'DejaVu Sans Condensed', 'DejaVu Sans', sans-serif" font-size="7.45" fill="#111" stroke="#111" stroke-width="0.3" textLength="19.18" lengthAdjust="spacingAndGlyphs">0.062</text>
<text x="173.62" y="313.4" text-anchor="middle" font-family="'DejaVu Sans Condensed', 'DejaVu Sans', sans-serif" font-size="7.45" fill="#111" stroke="#111" stroke-width="0.3" textLength="19.18" lengthAdjust="spacingAndGlyphs">0.067</text>
<text x="194.94" y="313.4" text-anchor="middle" font-family="'DejaVu Sans Condensed', 'DejaVu Sans', sans-serif" font-size="7.45" fill="#111" stroke="#111" stroke-width="0.3" textLength="19.18" lengthAdjust="spacingAndGlyphs">0.071</text>
<text x="216.26" y="313.4" text-anchor="middle" font-family="'DejaVu Sans Condensed', 'DejaVu Sans', sans-serif" font-size="7.45" fill="#111" stroke="#111" stroke-width="0.3" textLength="19.18" lengthAdjust="spacingAndGlyphs">0.076</text>
<text x="237.58" y="313.4" text-anchor="middle" font-family="'DejaVu Sans Condensed', 'DejaVu Sans', sans-serif" font-size="7.45" fill="#111" stroke="#111" stroke-width="0.3" textLength="14.92" lengthAdjust="spacingAndGlyphs">0.08</text>
<text x="141.8" y="322.8" text-anchor="middle" font-family="'DejaVu Sans', sans-serif" font-size="7.4" fill="#111" stroke="#111" stroke-width="0.3" textLength="76.77" lengthAdjust="spacingAndGlyphs">Arrival Rate (msg/ms)</text>
<text transform="translate(16.4,248.4) rotate(-90)" x="0" y="0" text-anchor="middle" font-family="'DejaVu Sans', sans-serif" font-size="7.7" fill="#111" stroke="#111" stroke-width="0.3" textLength="67.8" lengthAdjust="spacingAndGlyphs">Edge Utilization (%)</text>
<text x="120" y="343.8" font-family="'Liberation Serif', 'DejaVu Serif', serif" font-size="14.3" fill="#000" textLength="14.6" lengthAdjust="spacingAndGlyphs">(<tspan font-weight="bold">c</tspan>)</text>
<path d="M45.7,280.9 L67.02,278.52 L88.34,276.14 L109.66,273.77 L130.98,271.39 L152.3,269.01 L173.62,266.63 L194.94,264.26 L216.26,261.88 L237.58,259.5" stroke="#383838" stroke-width="0.8" fill="none" stroke-opacity="0.8"/>
<rect x="44.6" y="279.8" width="2.2" height="2.2" fill="#000000" rx="0.66"/>
<rect x="65.92" y="277.42" width="2.2" height="2.2" fill="#000000" rx="0.66"/>
<rect x="87.24" y="275.04" width="2.2" height="2.2" fill="#000000" rx="0.66"/>
<rect x="108.56" y="272.67" width="2.2" height="2.2" fill="#000000" rx="0.66"/>
<rect x="129.88" y="270.29" width="2.2" height="2.2" fill="#000000" rx="0.66"/>
<rect x="151.2" y="267.91" width="2.2" height="2.2" fill="#000000" rx="0.66"/>
<rect x="172.52" y="265.53" width="2.2" height="2.2" fill="#000000" rx="0.66"/>
<rect x="193.84" y="263.16" width="2.2" height="2.2" fill="#000000" rx="0.66"/>
<rect x="215.16" y="260.78" width="2.2" height="2.2" fill="#000000" rx="0.66"/>
<rect x="236.48" y="258.4" width="2.2" height="2.2" fill="#000000" rx="0.66"/>
<path d="M45.7,281.1 L67.02,278.72 L88.34,276.34 L109.66,273.97 L130.98,271.59 L152.3,269.21 L173.62,266.83 L194.94,264.46 L216.26,262.08 L237.58,259.7" stroke="#40f040" stroke-width="0.8" fill="none" stroke-opacity="0.8"/>
<rect x="44.7" y="280.1" width="2" height="2" fill="#00ff00" rx="0.6"/>
<rect x="66.02" y="277.72" width="2" height="2" fill="#00ff00" rx="0.6"/>
<rect x="87.34" y="275.34" width="2" height="2" fill="#00ff00" rx="0.6"/>
<rect x="108.66" y="272.97" width="2" height="2" fill="#00ff00" rx="0.6"/>
<rect x="129.98" y="270.59" width="2" height="2" fill="#00ff00" rx="0.6"/>
<rect x="151.3" y="268.21" width="2" height="2" fill="#00ff00" rx="0.6"/>
<rect x="172.62" y="265.83" width="2" height="2" fill="#00ff00" rx="0.6"/>
<rect x="193.94" y="263.46" width="2" height="2" fill="#00ff00" rx="0.6"/>
<rect x="215.26" y="261.08" width="2" height="2" fill="#00ff00" rx="0.6"/>
<rect x="236.58" y="258.7" width="2" height="2" fill="#00ff00" rx="0.6"/>
<path d="M45.7,280.8 L67.02,278.87 L88.34,276.49 L109.66,274.12 L130.98,271.74 L152.3,269.36 L173.62,266.98 L194.94,264.61 L216.26,261.78 L237.58,258.5" stroke="#ff4848" stroke-width="0.8" fill="none" stroke-opacity="0.8"/>
<rect x="44.4" y="279.5" width="2.6" height="2.6" fill="#ff0000" rx="0.78"/>
<rect x="65.72" y="277.57" width="2.6" height="2.6" fill="#ff0000" rx="0.78"/>
<rect x="87.04" y="275.19" width="2.6" height="2.6" fill="#ff0000" rx="0.78"/>
<rect x="108.36" y="272.82" width="2.6" height="2.6" fill="#ff0000" rx="0.78"/>
<rect x="129.68" y="270.44" width="2.6" height="2.6" fill="#ff0000" rx="0.78"/>
<rect x="151" y="268.06" width="2.6" height="2.6" fill="#ff0000" rx="0.78"/>
<rect x="172.32" y="265.68" width="2.6" height="2.6" fill="#ff0000" rx="0.78"/>
<rect x="193.64" y="263.31" width="2.6" height="2.6" fill="#ff0000" rx="0.78"/>
<rect x="214.96" y="260.48" width="2.6" height="2.6" fill="#ff0000" rx="0.78"/>
<rect x="236.28" y="257.2" width="2.6" height="2.6" fill="#ff0000" rx="0.78"/>
<path d="M45.7,280.8 L67.02,278.42 L88.34,276.04 L109.66,273.67 L130.98,271.29 L152.3,268.91 L173.62,266.53 L194.94,264.16 L216.26,261.78 L237.58,259.4" stroke="#6a6af2" stroke-width="0.8" fill="none" stroke-opacity="0.8"/>
<rect x="44.7" y="279.8" width="2" height="2" fill="#0000ff" rx="0.6"/>
<rect x="66.02" y="277.42" width="2" height="2" fill="#0000ff" rx="0.6"/>
<rect x="87.34" y="275.04" width="2" height="2" fill="#0000ff" rx="0.6"/>
<rect x="108.66" y="272.67" width="2" height="2" fill="#0000ff" rx="0.6"/>
<rect x="129.98" y="270.29" width="2" height="2" fill="#0000ff" rx="0.6"/>
<rect x="151.3" y="267.91" width="2" height="2" fill="#0000ff" rx="0.6"/>
<rect x="172.62" y="265.53" width="2" height="2" fill="#0000ff" rx="0.6"/>
<rect x="193.94" y="263.16" width="2" height="2" fill="#0000ff" rx="0.6"/>
<rect x="215.26" y="260.78" width="2" height="2" fill="#0000ff" rx="0.6"/>
<rect x="236.58" y="258.4" width="2" height="2" fill="#0000ff" rx="0.6"/>
<rect x="37.3" y="195.2" width="45.3" height="40.1" fill="#fff" stroke="#909090" stroke-width="0.8"/>
<line x1="40.5" y1="201.5" x2="50.7" y2="201.5" stroke="#383838" stroke-width="0.8" stroke-opacity="0.6"/>
<rect x="44.6" y="200.5" width="2" height="2" fill="#000000"/>
<text x="53.8" y="204.36" text-anchor="start" font-family="'DejaVu Sans', sans-serif" font-size="7.1" fill="#111" stroke="#111" stroke-width="0.3" textLength="25.56" lengthAdjust="spacingAndGlyphs">8 Cores</text>
<line x1="40.5" y1="211" x2="50.7" y2="211" stroke="#ff4848" stroke-width="0.8" stroke-opacity="0.6"/>
<rect x="44.6" y="210" width="2" height="2" fill="#ff0000"/>
<text x="53.8" y="213.86" text-anchor="start" font-family="'DejaVu Sans', sans-serif" font-size="7.1" fill="#111" stroke="#111" stroke-width="0.3" textLength="25.56" lengthAdjust="spacingAndGlyphs">4 Cores</text>
<line x1="40.5" y1="220.1" x2="50.7" y2="220.1" stroke="#40f040" stroke-width="0.8" stroke-opacity="0.6"/>
<rect x="44.6" y="219.1" width="2" height="2" fill="#00ff00"/>
<text x="53.8" y="222.96" text-anchor="start" font-family="'DejaVu Sans', sans-serif" font-size="7.1" fill="#111" stroke="#111" stroke-width="0.3" textLength="25.56" lengthAdjust="spacingAndGlyphs">2 Cores</text>
<line x1="40.5" y1="229.5" x2="50.7" y2="229.5" stroke="#6a6af2" stroke-width="0.8" stroke-opacity="0.6"/>
<rect x="44.6" y="228.5" width="2" height="2" fill="#0000ff"/>
<text x="53.8" y="232.36" text-anchor="start" font-family="'DejaVu Sans', sans-serif" font-size="7.1" fill="#111" stroke="#111" stroke-width="0.3" textLength="22.05" lengthAdjust="spacingAndGlyphs">1 Core</text>
<line x1="314" y1="194" x2="314" y2="301.75" stroke="#808080" stroke-width="0.9"/>
<line x1="312" y1="301.75" x2="546.6" y2="301.75" stroke="#808080" stroke-width="0.9"/>
<path d="M312,295.3h2 M312.8,292.42h1.2 M312.8,289.53h1.2 M312.8,286.65h1.2 M312.8,283.77h1.2 M312,280.88h2 M312.8,278h1.2 M312.8,275.12h1.2 M312.8,272.24h1.2 M312.8,269.35h1.2 M312,266.47h2 M312.8,263.59h1.2 M312.8,260.7h1.2 M312.8,257.82h1.2 M312.8,254.94h1.2 M312,252.06h2 M312.8,249.17h1.2 M312.8,246.29h1.2 M312.8,243.41h1.2 M312.8,240.52h1.2 M312,237.64h2 M312.8,234.76h1.2 M312.8,231.87h1.2 M312.8,228.99h1.2 M312.8,226.11h1.2 M312,223.23h2 M312.8,220.34h1.2 M312.8,217.46h1.2 M312.8,214.58h1.2 M312.8,211.69h1.2 M312,208.81h2 M312.8,205.93h1.2 M312.8,203.04h1.2 M312.8,200.16h1.2 M312.8,197.28h1.2 M312,194.39h2 M312.8,298.18h1.2 M312.8,301.07h1.2 M316.4,301.75v1.6 M321.05,301.75v1.6 M325.7,301.75v2.3 M330.35,301.75v1.6 M335,301.75v1.6 M339.64,301.75v1.6 M344.29,301.75v1.6 M348.94,301.75v2.3 M353.59,301.75v1.6 M358.24,301.75v1.6 M362.88,301.75v1.6 M367.53,301.75v1.6 M372.18,301.75v2.3 M376.83,301.75v1.6 M381.48,301.75v1.6 M386.12,301.75v1.6 M390.77,301.75v1.6 M395.42,301.75v2.3 M400.07,301.75v1.6 M404.72,301.75v1.6 M409.36,301.75v1.6 M414.01,301.75v1.6 M418.66,301.75v2.3 M423.31,301.75v1.6 M427.96,301.75v1.6 M432.6,301.75v1.6 M437.25,301.75v1.6 M441.9,301.75v2.3 M446.55,301.75v1.6 M451.2,301.75v1.6 M455.84,301.75v1.6 M460.49,301.75v1.6 M465.14,301.75v2.3 M469.79,301.75v1.6 M474.44,301.75v1.6 M479.08,301.75v1.6 M483.73,301.75v1.6 M488.38,301.75v2.3 M493.03,301.75v1.6 M497.68,301.75v1.6 M502.32,301.75v1.6 M506.97,301.75v1.6 M511.62,301.75v2.3 M516.27,301.75v1.6 M520.92,301.75v1.6 M525.56,301.75v1.6 M530.21,301.75v1.6 M534.86,301.75v2.3 M539.51,301.75v1.6 M544.16,301.75v1.6" stroke="#808080" stroke-width="0.7" fill="none"/>
<text x="310.4" y="298.99" text-anchor="end" font-family="'DejaVu Sans Condensed', 'DejaVu Sans', sans-serif" font-size="8.3" fill="#111" stroke="#111" stroke-width="0.25" textLength="4.75" lengthAdjust="spacingAndGlyphs">0</text>
<text x="310.4" y="284.57" text-anchor="end" font-family="'DejaVu Sans Condensed', 'DejaVu Sans', sans-serif" font-size="8.3" fill="#111" stroke="#111" stroke-width="0.25" textLength="16.62" lengthAdjust="spacingAndGlyphs">0.05</text>
<text x="310.4" y="270.16" text-anchor="end" font-family="'DejaVu Sans Condensed', 'DejaVu Sans', sans-serif" font-size="8.3" fill="#111" stroke="#111" stroke-width="0.25" textLength="11.87" lengthAdjust="spacingAndGlyphs">0.1</text>
<text x="310.4" y="255.74" text-anchor="end" font-family="'DejaVu Sans Condensed', 'DejaVu Sans', sans-serif" font-size="8.3" fill="#111" stroke="#111" stroke-width="0.25" textLength="16.62" lengthAdjust="spacingAndGlyphs">0.15</text>
<text x="310.4" y="241.33" text-anchor="end" font-family="'DejaVu Sans Condensed', 'DejaVu Sans', sans-serif" font-size="8.3" fill="#111" stroke="#111" stroke-width="0.25" textLength="11.87" lengthAdjust="spacingAndGlyphs">0.2</text>
<text x="310.4" y="226.91" text-anchor="end" font-family="'DejaVu Sans Condensed', 'DejaVu Sans', sans-serif" font-size="8.3" fill="#111" stroke="#111" stroke-width="0.25" textLength="16.62" lengthAdjust="spacingAndGlyphs">0.25</text>
<text x="310.4" y="212.5" text-anchor="end" font-family="'DejaVu Sans Condensed', 'DejaVu Sans', sans-serif" font-size="8.3" fill="#111" stroke="#111" stroke-width="0.25" textLength="11.87" lengthAdjust="spacingAndGlyphs">0.3</text>
<text x="310.4" y="198.08" text-anchor="end" font-family="'DejaVu Sans Condensed', 'DejaVu Sans', sans-serif" font-size="8.3" fill="#111" stroke="#111" stroke-width="0.25" textLength="16.62" lengthAdjust="spacingAndGlyphs">0.35</text>
<text x="325.7" y="313.5" text-anchor="middle" font-family="'DejaVu Sans Condensed', 'DejaVu Sans', sans-serif" font-size="8.3" fill="#111" stroke="#111" stroke-width="0.25" textLength="16.62" lengthAdjust="spacingAndGlyphs">0.04</text>
<text x="348.94" y="313.5" text-anchor="middle" font-family="'DejaVu Sans Condensed', 'DejaVu Sans', sans-serif" font-size="8.3" fill="#111" stroke="#111" stroke-width="0.25" textLength="21.37" lengthAdjust="spacingAndGlyphs">0.044</text>
<text x="372.18" y="313.5" text-anchor="middle" font-family="'DejaVu Sans Condensed', 'DejaVu Sans', sans-serif" font-size="8.3" fill="#111" stroke="#111" stroke-width="0.25" textLength="21.37" lengthAdjust="spacingAndGlyphs">0.049</text>
<text x="395.42" y="313.5" text-anchor="middle" font-family="'DejaVu Sans Condensed', 'DejaVu Sans', sans-serif" font-size="8.3" fill="#111" stroke="#111" stroke-width="0.25" textLength="21.37" lengthAdjust="spacingAndGlyphs">0.053</text>
<text x="418.66" y="313.5" text-anchor="middle" font-family="'DejaVu Sans Condensed', 'DejaVu Sans', sans-serif" font-size="8.3" fill="#111" stroke="#111" stroke-width="0.25" textLength="21.37" lengthAdjust="spacingAndGlyphs">0.058</text>
<text x="441.9" y="313.5" text-anchor="middle" font-family="'DejaVu Sans Condensed', 'DejaVu Sans', sans-serif" font-size="8.3" fill="#111" stroke="#111" stroke-width="0.25" textLength="21.37" lengthAdjust="spacingAndGlyphs">0.062</text>
<text x="465.14" y="313.5" text-anchor="middle" font-family="'DejaVu Sans Condensed', 'DejaVu Sans', sans-serif" font-size="8.3" fill="#111" stroke="#111" stroke-width="0.25" textLength="21.37" lengthAdjust="spacingAndGlyphs">0.067</text>
<text x="488.38" y="313.5" text-anchor="middle" font-family="'DejaVu Sans Condensed', 'DejaVu Sans', sans-serif" font-size="8.3" fill="#111" stroke="#111" stroke-width="0.25" textLength="21.37" lengthAdjust="spacingAndGlyphs">0.071</text>
<text x="511.62" y="313.5" text-anchor="middle" font-family="'DejaVu Sans Condensed', 'DejaVu Sans', sans-serif" font-size="8.3" fill="#111" stroke="#111" stroke-width="0.25" textLength="21.37" lengthAdjust="spacingAndGlyphs">0.076</text>
<text x="534.86" y="313.5" text-anchor="middle" font-family="'DejaVu Sans Condensed', 'DejaVu Sans', sans-serif" font-size="8.3" fill="#111" stroke="#111" stroke-width="0.25" textLength="16.62" lengthAdjust="spacingAndGlyphs">0.08</text>
<text x="430.1" y="324" text-anchor="middle" font-family="'DejaVu Sans', sans-serif" font-size="7.65" fill="#111" stroke="#111" stroke-width="0.25" textLength="83.54" lengthAdjust="spacingAndGlyphs">Arrival Rate (msg/ms)</text>
<text transform="translate(291.6,244.9) rotate(-90)" x="0" y="0" text-anchor="middle" font-family="'DejaVu Sans', sans-serif" font-size="8" fill="#111" stroke="#111" stroke-width="0.25" textLength="77.79" lengthAdjust="spacingAndGlyphs">Drop Rate (msg/ms)</text>
<text x="404.75" y="343.8" font-family="'Liberation Serif', 'DejaVu Serif', serif" font-size="14.3" fill="#000" textLength="17.5" lengthAdjust="spacingAndGlyphs">(<tspan font-weight="bold">d</tspan>)</text>
<path d="M325.7,295.6 C329.57,295.6 341.19,295.6 348.94,295.6 C356.69,295.6 364.43,295.6 372.18,295.6 C379.93,295.6 387.67,295.6 395.42,295.6 C403.17,295.6 410.91,295.6 418.66,295.6 C426.41,295.6 434.15,295.6 441.9,295.6 C449.65,295.6 457.39,295.6 465.14,295.6 C472.89,295.6 480.63,295.6 488.38,295.6 C496.13,295.6 503.87,295.6 511.62,295.6 C519.37,295.6 530.99,295.6 534.86,295.6" stroke="#383838" stroke-width="0.8" fill="none" stroke-opacity="0.8"/>
<rect x="324.6" y="294.5" width="2.2" height="2.2" fill="#000000" rx="0.66"/>
<rect x="347.84" y="294.5" width="2.2" height="2.2" fill="#000000" rx="0.66"/>
<rect x="371.08" y="294.5" width="2.2" height="2.2" fill="#000000" rx="0.66"/>
<rect x="394.32" y="294.5" width="2.2" height="2.2" fill="#000000" rx="0.66"/>
<rect x="417.56" y="294.5" width="2.2" height="2.2" fill="#000000" rx="0.66"/>
<rect x="440.8" y="294.5" width="2.2" height="2.2" fill="#000000" rx="0.66"/>
<rect x="464.04" y="294.5" width="2.2" height="2.2" fill="#000000" rx="0.66"/>
<rect x="487.28" y="294.5" width="2.2" height="2.2" fill="#000000" rx="0.66"/>
<rect x="510.52" y="294.5" width="2.2" height="2.2" fill="#000000" rx="0.66"/>
<rect x="533.76" y="294.5" width="2.2" height="2.2" fill="#000000" rx="0.66"/>
<path d="M325.7,295.6 C329.57,295.6 341.19,295.6 348.94,295.6 C356.69,295.6 364.43,295.6 372.18,295.6 C379.93,295.6 387.67,295.6 395.42,295.6 C403.17,295.6 410.91,295.6 418.66,295.6 C426.41,295.6 434.15,295.6 441.9,295.6 C449.65,295.6 457.39,295.6 465.14,295.6 C472.89,295.6 480.63,295.6 488.38,295.6 C496.13,295.6 503.87,295.6 511.62,295.6 C519.37,295.6 530.99,295.6 534.86,295.6" stroke="#ff4848" stroke-width="0.8" fill="none" stroke-opacity="0.8"/>
<rect x="324.4" y="294.3" width="2.6" height="2.6" fill="#ff0000" rx="0.78"/>
<rect x="347.64" y="294.3" width="2.6" height="2.6" fill="#ff0000" rx="0.78"/>
<rect x="370.88" y="294.3" width="2.6" height="2.6" fill="#ff0000" rx="0.78"/>
<rect x="394.12" y="294.3" width="2.6" height="2.6" fill="#ff0000" rx="0.78"/>
<rect x="417.36" y="294.3" width="2.6" height="2.6" fill="#ff0000" rx="0.78"/>
<rect x="440.6" y="294.3" width="2.6" height="2.6" fill="#ff0000" rx="0.78"/>
<rect x="463.84" y="294.3" width="2.6" height="2.6" fill="#ff0000" rx="0.78"/>
<rect x="487.08" y="294.3" width="2.6" height="2.6" fill="#ff0000" rx="0.78"/>
<rect x="510.32" y="294.3" width="2.6" height="2.6" fill="#ff0000" rx="0.78"/>
<rect x="533.56" y="294.3" width="2.6" height="2.6" fill="#ff0000" rx="0.78"/>
<path d="M325.7,295.7 C329.57,295.7 341.19,295.7 348.94,295.7 C356.69,295.7 364.43,296.2 372.18,295.7 C379.93,295.2 387.67,293.53 395.42,292.7 C403.17,291.87 410.91,292.15 418.66,290.7 C426.41,289.25 434.15,286.37 441.9,284 C449.65,281.63 457.39,279 465.14,276.5 C472.89,274 480.63,271.58 488.38,269 C496.13,266.42 503.87,263.6 511.62,261 C519.37,258.4 530.99,254.67 534.86,253.4" stroke="#40f040" stroke-width="0.8" fill="none" stroke-opacity="0.8"/>
<rect x="324.7" y="294.7" width="2" height="2" fill="#00ff00" rx="0.6"/>
<rect x="347.94" y="294.7" width="2" height="2" fill="#00ff00" rx="0.6"/>
<rect x="371.18" y="294.7" width="2" height="2" fill="#00ff00" rx="0.6"/>
<rect x="394.42" y="291.7" width="2" height="2" fill="#00ff00" rx="0.6"/>
<rect x="417.66" y="289.7" width="2" height="2" fill="#00ff00" rx="0.6"/>
<rect x="440.9" y="283" width="2" height="2" fill="#00ff00" rx="0.6"/>
<rect x="464.14" y="275.5" width="2" height="2" fill="#00ff00" rx="0.6"/>
<rect x="487.38" y="268" width="2" height="2" fill="#00ff00" rx="0.6"/>
<rect x="510.62" y="260" width="2" height="2" fill="#00ff00" rx="0.6"/>
<rect x="533.86" y="252.4" width="2" height="2" fill="#00ff00" rx="0.6"/>
<path d="M325.7,274.6 C329.57,273.42 341.19,270.12 348.94,267.5 C356.69,264.88 364.43,261.62 372.18,258.9 C379.93,256.18 387.67,253.72 395.42,251.2 C403.17,248.68 410.91,246.38 418.66,243.8 C426.41,241.22 434.15,238.4 441.9,235.7 C449.65,233 457.39,230.1 465.14,227.6 C472.89,225.1 480.63,223.1 488.38,220.7 C496.13,218.3 503.87,215.63 511.62,213.2 C519.37,210.77 530.99,207.28 534.86,206.1" stroke="#6a6af2" stroke-width="0.8" fill="none" stroke-opacity="0.8"/>
<rect x="324.7" y="273.6" width="2" height="2" fill="#0000ff" rx="0.6"/>
<rect x="347.94" y="266.5" width="2" height="2" fill="#0000ff" rx="0.6"/>
<rect x="371.18" y="257.9" width="2" height="2" fill="#0000ff" rx="0.6"/>
<rect x="394.42" y="250.2" width="2" height="2" fill="#0000ff" rx="0.6"/>
<rect x="417.66" y="242.8" width="2" height="2" fill="#0000ff" rx="0.6"/>
<rect x="440.9" y="234.7" width="2" height="2" fill="#0000ff" rx="0.6"/>
<rect x="464.14" y="226.6" width="2" height="2" fill="#0000ff" rx="0.6"/>
<rect x="487.38" y="219.7" width="2" height="2" fill="#0000ff" rx="0.6"/>
<rect x="510.62" y="212.2" width="2" height="2" fill="#0000ff" rx="0.6"/>
<rect x="533.86" y="205.1" width="2" height="2" fill="#0000ff" rx="0.6"/>
<rect x="318.5" y="194.5" width="45.6" height="39.1" fill="#fff" stroke="#909090" stroke-width="0.8"/>
<line x1="321.1" y1="201.2" x2="332.3" y2="201.2" stroke="#383838" stroke-width="0.8" stroke-opacity="0.6"/>
<rect x="325.9" y="200.2" width="2" height="2" fill="#000000"/>
<text x="334.8" y="203.92" text-anchor="start" font-family="'DejaVu Sans', sans-serif" font-size="7" fill="#111" stroke="#111" stroke-width="0.25" textLength="25.47" lengthAdjust="spacingAndGlyphs">8 Cores</text>
<line x1="321.1" y1="210.1" x2="332.3" y2="210.1" stroke="#ff4848" stroke-width="0.8" stroke-opacity="0.6"/>
<rect x="325.9" y="209.1" width="2" height="2" fill="#ff0000"/>
<text x="334.8" y="212.82" text-anchor="start" font-family="'DejaVu Sans', sans-serif" font-size="7" fill="#111" stroke="#111" stroke-width="0.25" textLength="25.47" lengthAdjust="spacingAndGlyphs">4 Cores</text>
<line x1="321.1" y1="219" x2="332.3" y2="219" stroke="#40f040" stroke-width="0.8" stroke-opacity="0.6"/>
<rect x="325.9" y="218" width="2" height="2" fill="#00ff00"/>
<text x="334.8" y="221.72" text-anchor="start" font-family="'DejaVu Sans', sans-serif" font-size="7" fill="#111" stroke="#111" stroke-width="0.25" textLength="25.47" lengthAdjust="spacingAndGlyphs">2 Cores</text>
<line x1="321.1" y1="227.9" x2="332.3" y2="227.9" stroke="#6a6af2" stroke-width="0.8" stroke-opacity="0.6"/>
<rect x="325.9" y="226.9" width="2" height="2" fill="#0000ff"/>
<text x="334.8" y="230.62" text-anchor="start" font-family="'DejaVu Sans', sans-serif" font-size="7" fill="#111" stroke="#111" stroke-width="0.25" textLength="21.96" lengthAdjust="spacingAndGlyphs">1 Core</text>
<line x1="34.8" y1="372.7" x2="34.8" y2="482.3" stroke="#808080" stroke-width="0.9"/>
<line x1="32.8" y1="482.3" x2="247.3" y2="482.3" stroke="#808080" stroke-width="0.9"/>
<path d="M32.8,482.3h2 M33.6,478.1h1.2 M33.6,473.9h1.2 M33.6,469.7h1.2 M33.6,465.5h1.2 M32.8,461.3h2 M33.6,457.1h1.2 M33.6,452.9h1.2 M33.6,448.7h1.2 M33.6,444.5h1.2 M32.8,440.3h2 M33.6,436.1h1.2 M33.6,431.9h1.2 M33.6,427.7h1.2 M33.6,423.5h1.2 M32.8,419.3h2 M33.6,415.1h1.2 M33.6,410.9h1.2 M33.6,406.7h1.2 M33.6,402.5h1.2 M32.8,398.3h2 M33.6,394.1h1.2 M33.6,389.9h1.2 M33.6,385.7h1.2 M33.6,381.5h1.2 M32.8,377.3h2 M33.6,373.1h1.2 M37.59,482.3v1.6 M41.84,482.3v1.6 M46.1,482.3v2.3 M50.36,482.3v1.6 M54.61,482.3v1.6 M58.87,482.3v1.6 M63.12,482.3v1.6 M67.38,482.3v2.3 M71.64,482.3v1.6 M75.89,482.3v1.6 M80.15,482.3v1.6 M84.4,482.3v1.6 M88.66,482.3v2.3 M92.92,482.3v1.6 M97.17,482.3v1.6 M101.43,482.3v1.6 M105.68,482.3v1.6 M109.94,482.3v2.3 M114.2,482.3v1.6 M118.45,482.3v1.6 M122.71,482.3v1.6 M126.96,482.3v1.6 M131.22,482.3v2.3 M135.48,482.3v1.6 M139.73,482.3v1.6 M143.99,482.3v1.6 M148.24,482.3v1.6 M152.5,482.3v2.3 M156.76,482.3v1.6 M161.01,482.3v1.6 M165.27,482.3v1.6 M169.52,482.3v1.6 M173.78,482.3v2.3 M178.04,482.3v1.6 M182.29,482.3v1.6 M186.55,482.3v1.6 M190.8,482.3v1.6 M195.06,482.3v2.3 M199.32,482.3v1.6 M203.57,482.3v1.6 M207.83,482.3v1.6 M212.08,482.3v1.6 M216.34,482.3v2.3 M220.6,482.3v1.6 M224.85,482.3v1.6 M229.11,482.3v1.6 M233.36,482.3v1.6 M237.62,482.3v2.3 M241.88,482.3v1.6 M246.13,482.3v1.6" stroke="#808080" stroke-width="0.7" fill="none"/>
<text x="31.9" y="485.27" text-anchor="end" font-family="'DejaVu Sans Condensed', 'DejaVu Sans', sans-serif" font-size="7.7" fill="#111" stroke="#111" stroke-width="0.3" textLength="4.41" lengthAdjust="spacingAndGlyphs">0</text>
<text x="31.9" y="464.27" text-anchor="end" font-family="'DejaVu Sans Condensed', 'DejaVu Sans', sans-serif" font-size="7.7" fill="#111" stroke="#111" stroke-width="0.3" textLength="8.81" lengthAdjust="spacingAndGlyphs">50</text>
<text x="31.9" y="443.27" text-anchor="end" font-family="'DejaVu Sans Condensed', 'DejaVu Sans', sans-serif" font-size="7.7" fill="#111" stroke="#111" stroke-width="0.3" textLength="13.22" lengthAdjust="spacingAndGlyphs">100</text>
<text x="31.9" y="422.27" text-anchor="end" font-family="'DejaVu Sans Condensed', 'DejaVu Sans', sans-serif" font-size="7.7" fill="#111" stroke="#111" stroke-width="0.3" textLength="13.22" lengthAdjust="spacingAndGlyphs">150</text>
<text x="31.9" y="401.27" text-anchor="end" font-family="'DejaVu Sans Condensed', 'DejaVu Sans', sans-serif" font-size="7.7" fill="#111" stroke="#111" stroke-width="0.3" textLength="13.22" lengthAdjust="spacingAndGlyphs">200</text>
<text x="31.9" y="380.27" text-anchor="end" font-family="'DejaVu Sans Condensed', 'DejaVu Sans', sans-serif" font-size="7.7" fill="#111" stroke="#111" stroke-width="0.3" textLength="13.22" lengthAdjust="spacingAndGlyphs">250</text>
<text x="46.1" y="493.7" text-anchor="middle" font-family="'DejaVu Sans Condensed', 'DejaVu Sans', sans-serif" font-size="7.7" fill="#111" stroke="#111" stroke-width="0.3" textLength="14.96" lengthAdjust="spacingAndGlyphs">0.04</text>
<text x="67.38" y="493.7" text-anchor="middle" font-family="'DejaVu Sans Condensed', 'DejaVu Sans', sans-serif" font-size="7.7" fill="#111" stroke="#111" stroke-width="0.3" textLength="19.23" lengthAdjust="spacingAndGlyphs">0.044</text>
<text x="88.66" y="493.7" text-anchor="middle" font-family="'DejaVu Sans Condensed', 'DejaVu Sans', sans-serif" font-size="7.7" fill="#111" stroke="#111" stroke-width="0.3" textLength="19.23" lengthAdjust="spacingAndGlyphs">0.049</text>
<text x="109.94" y="493.7" text-anchor="middle" font-family="'DejaVu Sans Condensed', 'DejaVu Sans', sans-serif" font-size="7.7" fill="#111" stroke="#111" stroke-width="0.3" textLength="19.23" lengthAdjust="spacingAndGlyphs">0.053</text>
<text x="131.22" y="493.7" text-anchor="middle" font-family="'DejaVu Sans Condensed', 'DejaVu Sans', sans-serif" font-size="7.7" fill="#111" stroke="#111" stroke-width="0.3" textLength="19.23" lengthAdjust="spacingAndGlyphs">0.058</text>
<text x="152.5" y="493.7" text-anchor="middle" font-family="'DejaVu Sans Condensed', 'DejaVu Sans', sans-serif" font-size="7.7" fill="#111" stroke="#111" stroke-width="0.3" textLength="19.23" lengthAdjust="spacingAndGlyphs">0.062</text>
<text x="173.78" y="493.7" text-anchor="middle" font-family="'DejaVu Sans Condensed', 'DejaVu Sans', sans-serif" font-size="7.7" fill="#111" stroke="#111" stroke-width="0.3" textLength="19.23" lengthAdjust="spacingAndGlyphs">0.067</text>
<text x="195.06" y="493.7" text-anchor="middle" font-family="'DejaVu Sans Condensed', 'DejaVu Sans', sans-serif" font-size="7.7" fill="#111" stroke="#111" stroke-width="0.3" textLength="19.23" lengthAdjust="spacingAndGlyphs">0.071</text>
<text x="216.34" y="493.7" text-anchor="middle" font-family="'DejaVu Sans Condensed', 'DejaVu Sans', sans-serif" font-size="7.7" fill="#111" stroke="#111" stroke-width="0.3" textLength="19.23" lengthAdjust="spacingAndGlyphs">0.076</text>
<text x="237.62" y="493.7" text-anchor="middle" font-family="'DejaVu Sans Condensed', 'DejaVu Sans', sans-serif" font-size="7.7" fill="#111" stroke="#111" stroke-width="0.3" textLength="14.96" lengthAdjust="spacingAndGlyphs">0.08</text>
<text x="141.8" y="503" text-anchor="middle" font-family="'DejaVu Sans', sans-serif" font-size="7.5" fill="#111" stroke="#111" stroke-width="0.3" textLength="77.8" lengthAdjust="spacingAndGlyphs">Arrival Rate (msg/ms)</text>
<text transform="translate(16.9,429.6) rotate(-90)" x="0" y="0" text-anchor="middle" font-family="'DejaVu Sans', sans-serif" font-size="7.6" fill="#111" stroke="#111" stroke-width="0.3" textLength="101.3" lengthAdjust="spacingAndGlyphs">System Number of Messages</text>
<text x="119.35" y="524.5" font-family="'Liberation Serif', 'DejaVu Serif', serif" font-size="14.3" fill="#000" textLength="15.7" lengthAdjust="spacingAndGlyphs">(<tspan font-weight="bold">e</tspan>)</text>
<path d="M46.1,477.9 L67.38,477.2 L88.66,476.5 L109.94,475.9 L131.22,475.4 L152.5,475 L173.78,474.5 L195.06,474 L216.34,473.3 L237.62,472.3" stroke="#383838" stroke-width="0.8" fill="none" stroke-opacity="0.8"/>
<rect x="45" y="476.8" width="2.2" height="2.2" fill="#000000" rx="0.66"/>
<rect x="66.28" y="476.1" width="2.2" height="2.2" fill="#000000" rx="0.66"/>
<rect x="87.56" y="475.4" width="2.2" height="2.2" fill="#000000" rx="0.66"/>
<rect x="108.84" y="474.8" width="2.2" height="2.2" fill="#000000" rx="0.66"/>
<rect x="130.12" y="474.3" width="2.2" height="2.2" fill="#000000" rx="0.66"/>
<rect x="151.4" y="473.9" width="2.2" height="2.2" fill="#000000" rx="0.66"/>
<rect x="172.68" y="473.4" width="2.2" height="2.2" fill="#000000" rx="0.66"/>
<rect x="193.96" y="472.9" width="2.2" height="2.2" fill="#000000" rx="0.66"/>
<rect x="215.24" y="472.2" width="2.2" height="2.2" fill="#000000" rx="0.66"/>
<rect x="236.52" y="471.2" width="2.2" height="2.2" fill="#000000" rx="0.66"/>
<path d="M46.1,477.9 L67.38,477 L88.66,476.3 L109.94,475.6 L131.22,475.2 L152.5,474.5 L173.78,473.8 L195.06,472.6 L216.34,471.3 L237.62,470.1" stroke="#ff4848" stroke-width="0.8" fill="none" stroke-opacity="0.8"/>
<rect x="44.8" y="476.6" width="2.6" height="2.6" fill="#ff0000" rx="0.78"/>
<rect x="66.08" y="475.7" width="2.6" height="2.6" fill="#ff0000" rx="0.78"/>
<rect x="87.36" y="475" width="2.6" height="2.6" fill="#ff0000" rx="0.78"/>
<rect x="108.64" y="474.3" width="2.6" height="2.6" fill="#ff0000" rx="0.78"/>
<rect x="129.92" y="473.9" width="2.6" height="2.6" fill="#ff0000" rx="0.78"/>
<rect x="151.2" y="473.2" width="2.6" height="2.6" fill="#ff0000" rx="0.78"/>
<rect x="172.48" y="472.5" width="2.6" height="2.6" fill="#ff0000" rx="0.78"/>
<rect x="193.76" y="471.3" width="2.6" height="2.6" fill="#ff0000" rx="0.78"/>
<rect x="215.04" y="470" width="2.6" height="2.6" fill="#ff0000" rx="0.78"/>
<rect x="236.32" y="468.8" width="2.6" height="2.6" fill="#ff0000" rx="0.78"/>
<path d="M46.1,474.3 L67.38,470.9 L88.66,464.6 L109.94,444.8 L131.22,409.6 L152.5,390.1 L173.78,384.3 L195.06,381.1 L216.34,380.1 L237.62,377.7" stroke="#40f040" stroke-width="0.8" fill="none" stroke-opacity="0.8"/>
<rect x="45.1" y="473.3" width="2" height="2" fill="#00ff00" rx="0.6"/>
<rect x="66.38" y="469.9" width="2" height="2" fill="#00ff00" rx="0.6"/>
<rect x="87.66" y="463.6" width="2" height="2" fill="#00ff00" rx="0.6"/>
<rect x="108.94" y="443.8" width="2" height="2" fill="#00ff00" rx="0.6"/>
<rect x="130.22" y="408.6" width="2" height="2" fill="#00ff00" rx="0.6"/>
<rect x="151.5" y="389.1" width="2" height="2" fill="#00ff00" rx="0.6"/>
<rect x="172.78" y="383.3" width="2" height="2" fill="#00ff00" rx="0.6"/>
<rect x="194.06" y="380.1" width="2" height="2" fill="#00ff00" rx="0.6"/>
<rect x="215.34" y="379.1" width="2" height="2" fill="#00ff00" rx="0.6"/>
<rect x="236.62" y="376.7" width="2" height="2" fill="#00ff00" rx="0.6"/>
<path d="M46.1,379.9 L67.38,379 L88.66,378.1 L109.94,377.7 L131.22,377 L152.5,376.5 L173.78,375.7 L195.06,375.7 L216.34,375.2 L237.62,374.8" stroke="#6a6af2" stroke-width="0.8" fill="none" stroke-opacity="0.8"/>
<rect x="45.1" y="378.9" width="2" height="2" fill="#0000ff" rx="0.6"/>
<rect x="66.38" y="378" width="2" height="2" fill="#0000ff" rx="0.6"/>
<rect x="87.66" y="377.1" width="2" height="2" fill="#0000ff" rx="0.6"/>
<rect x="108.94" y="376.7" width="2" height="2" fill="#0000ff" rx="0.6"/>
<rect x="130.22" y="376" width="2" height="2" fill="#0000ff" rx="0.6"/>
<rect x="151.5" y="375.5" width="2" height="2" fill="#0000ff" rx="0.6"/>
<rect x="172.78" y="374.7" width="2" height="2" fill="#0000ff" rx="0.6"/>
<rect x="194.06" y="374.7" width="2" height="2" fill="#0000ff" rx="0.6"/>
<rect x="215.34" y="374.2" width="2" height="2" fill="#0000ff" rx="0.6"/>
<rect x="236.62" y="373.8" width="2" height="2" fill="#0000ff" rx="0.6"/>
<rect x="196.6" y="423.5" width="44.4" height="40" fill="#fff" stroke="#909090" stroke-width="0.8"/>
<line x1="199.3" y1="430.4" x2="209.5" y2="430.4" stroke="#383838" stroke-width="0.8" stroke-opacity="0.6"/>
<rect x="203.4" y="429.4" width="2" height="2" fill="#000000"/>
<text x="212.4" y="432.82" text-anchor="start" font-family="'DejaVu Sans', sans-serif" font-size="6.73" fill="#111" stroke="#111" stroke-width="0.3" textLength="25.5" lengthAdjust="spacingAndGlyphs">8 Cores</text>
<line x1="199.3" y1="439.4" x2="209.5" y2="439.4" stroke="#ff4848" stroke-width="0.8" stroke-opacity="0.6"/>
<rect x="203.4" y="438.4" width="2" height="2" fill="#ff0000"/>
<text x="212.4" y="441.82" text-anchor="start" font-family="'DejaVu Sans', sans-serif" font-size="6.73" fill="#111" stroke="#111" stroke-width="0.3" textLength="25.5" lengthAdjust="spacingAndGlyphs">4 Cores</text>
<line x1="199.3" y1="448.7" x2="209.5" y2="448.7" stroke="#40f040" stroke-width="0.8" stroke-opacity="0.6"/>
<rect x="203.4" y="447.7" width="2" height="2" fill="#00ff00"/>
<text x="212.4" y="451.12" text-anchor="start" font-family="'DejaVu Sans', sans-serif" font-size="6.73" fill="#111" stroke="#111" stroke-width="0.3" textLength="25.5" lengthAdjust="spacingAndGlyphs">2 Cores</text>
<line x1="199.3" y1="457.7" x2="209.5" y2="457.7" stroke="#6a6af2" stroke-width="0.8" stroke-opacity="0.6"/>
<rect x="203.4" y="456.7" width="2" height="2" fill="#0000ff"/>
<text x="212.4" y="460.12" text-anchor="start" font-family="'DejaVu Sans', sans-serif" font-size="6.73" fill="#111" stroke="#111" stroke-width="0.3" textLength="22" lengthAdjust="spacingAndGlyphs">1 Core</text>
<line x1="313" y1="372" x2="313" y2="482.1" stroke="#808080" stroke-width="0.9"/>
<line x1="311" y1="482.1" x2="544.9" y2="482.1" stroke="#808080" stroke-width="0.9"/>
<path d="M311,482.1h2 M311.8,479.91h1.2 M311.8,477.72h1.2 M311.8,475.54h1.2 M311.8,473.35h1.2 M311,471.16h2 M311.8,468.97h1.2 M311.8,466.78h1.2 M311.8,464.6h1.2 M311.8,462.41h1.2 M311,460.22h2 M311.8,458.03h1.2 M311.8,455.84h1.2 M311.8,453.66h1.2 M311.8,451.47h1.2 M311,449.28h2 M311.8,447.09h1.2 M311.8,444.9h1.2 M311.8,442.72h1.2 M311.8,440.53h1.2 M311,438.34h2 M311.8,436.15h1.2 M311.8,433.96h1.2 M311.8,431.78h1.2 M311.8,429.59h1.2 M311,427.4h2 M311.8,425.21h1.2 M311.8,423.02h1.2 M311.8,420.84h1.2 M311.8,418.65h1.2 M311,416.46h2 M311.8,414.27h1.2 M311.8,412.08h1.2 M311.8,409.9h1.2 M311.8,407.71h1.2 M311,405.52h2 M311.8,403.33h1.2 M311.8,401.14h1.2 M311.8,398.96h1.2 M311.8,396.77h1.2 M311,394.58h2 M311.8,392.39h1.2 M311.8,390.2h1.2 M311.8,388.02h1.2 M311.8,385.83h1.2 M311,383.64h2 M311.8,381.45h1.2 M311.8,379.26h1.2 M311.8,377.08h1.2 M311.8,374.89h1.2 M311,372.7h2 M315.65,482.1v1.6 M320.27,482.1v1.6 M324.9,482.1v2.3 M329.53,482.1v1.6 M334.15,482.1v1.6 M338.78,482.1v1.6 M343.4,482.1v1.6 M348.03,482.1v2.3 M352.66,482.1v1.6 M357.28,482.1v1.6 M361.91,482.1v1.6 M366.53,482.1v1.6 M371.16,482.1v2.3 M375.79,482.1v1.6 M380.41,482.1v1.6 M385.04,482.1v1.6 M389.66,482.1v1.6 M394.29,482.1v2.3 M398.92,482.1v1.6 M403.54,482.1v1.6 M408.17,482.1v1.6 M412.79,482.1v1.6 M417.42,482.1v2.3 M422.05,482.1v1.6 M426.67,482.1v1.6 M431.3,482.1v1.6 M435.92,482.1v1.6 M440.55,482.1v2.3 M445.18,482.1v1.6 M449.8,482.1v1.6 M454.43,482.1v1.6 M459.05,482.1v1.6 M463.68,482.1v2.3 M468.31,482.1v1.6 M472.93,482.1v1.6 M477.56,482.1v1.6 M482.18,482.1v1.6 M486.81,482.1v2.3 M491.44,482.1v1.6 M496.06,482.1v1.6 M500.69,482.1v1.6 M505.31,482.1v1.6 M509.94,482.1v2.3 M514.57,482.1v1.6 M519.19,482.1v1.6 M523.82,482.1v1.6 M528.44,482.1v1.6 M533.07,482.1v2.3 M537.7,482.1v1.6 M542.32,482.1v1.6" stroke="#808080" stroke-width="0.7" fill="none"/>
<text x="309.7" y="485.62" text-anchor="end" font-family="'DejaVu Sans Condensed', 'DejaVu Sans', sans-serif" font-size="8.4" fill="#111" stroke="#111" stroke-width="0.25" textLength="4.81" lengthAdjust="spacingAndGlyphs">0</text>
<text x="309.7" y="474.68" text-anchor="end" font-family="'DejaVu Sans Condensed', 'DejaVu Sans', sans-serif" font-size="8.4" fill="#111" stroke="#111" stroke-width="0.25" textLength="16.82" lengthAdjust="spacingAndGlyphs">0.05</text>
<text x="309.7" y="463.74" text-anchor="end" font-family="'DejaVu Sans Condensed', 'DejaVu Sans', sans-serif" font-size="8.4" fill="#111" stroke="#111" stroke-width="0.25" textLength="12.01" lengthAdjust="spacingAndGlyphs">0.1</text>
<text x="309.7" y="452.8" text-anchor="end" font-family="'DejaVu Sans Condensed', 'DejaVu Sans', sans-serif" font-size="8.4" fill="#111" stroke="#111" stroke-width="0.25" textLength="16.82" lengthAdjust="spacingAndGlyphs">0.15</text>
<text x="309.7" y="441.86" text-anchor="end" font-family="'DejaVu Sans Condensed', 'DejaVu Sans', sans-serif" font-size="8.4" fill="#111" stroke="#111" stroke-width="0.25" textLength="12.01" lengthAdjust="spacingAndGlyphs">0.2</text>
<text x="309.7" y="430.92" text-anchor="end" font-family="'DejaVu Sans Condensed', 'DejaVu Sans', sans-serif" font-size="8.4" fill="#111" stroke="#111" stroke-width="0.25" textLength="16.82" lengthAdjust="spacingAndGlyphs">0.25</text>
<text x="309.7" y="419.98" text-anchor="end" font-family="'DejaVu Sans Condensed', 'DejaVu Sans', sans-serif" font-size="8.4" fill="#111" stroke="#111" stroke-width="0.25" textLength="12.01" lengthAdjust="spacingAndGlyphs">0.3</text>
<text x="309.7" y="409.04" text-anchor="end" font-family="'DejaVu Sans Condensed', 'DejaVu Sans', sans-serif" font-size="8.4" fill="#111" stroke="#111" stroke-width="0.25" textLength="16.82" lengthAdjust="spacingAndGlyphs">0.35</text>
<text x="309.7" y="398.1" text-anchor="end" font-family="'DejaVu Sans Condensed', 'DejaVu Sans', sans-serif" font-size="8.4" fill="#111" stroke="#111" stroke-width="0.25" textLength="12.01" lengthAdjust="spacingAndGlyphs">0.4</text>
<text x="309.7" y="387.16" text-anchor="end" font-family="'DejaVu Sans Condensed', 'DejaVu Sans', sans-serif" font-size="8.4" fill="#111" stroke="#111" stroke-width="0.25" textLength="16.82" lengthAdjust="spacingAndGlyphs">0.45</text>
<text x="309.7" y="376.22" text-anchor="end" font-family="'DejaVu Sans Condensed', 'DejaVu Sans', sans-serif" font-size="8.4" fill="#111" stroke="#111" stroke-width="0.25" textLength="12.01" lengthAdjust="spacingAndGlyphs">0.5</text>
<text x="324.9" y="495.1" text-anchor="middle" font-family="'DejaVu Sans Condensed', 'DejaVu Sans', sans-serif" font-size="8.4" fill="#111" stroke="#111" stroke-width="0.25" textLength="16.82" lengthAdjust="spacingAndGlyphs">0.04</text>
<text x="348.03" y="495.1" text-anchor="middle" font-family="'DejaVu Sans Condensed', 'DejaVu Sans', sans-serif" font-size="8.4" fill="#111" stroke="#111" stroke-width="0.25" textLength="21.63" lengthAdjust="spacingAndGlyphs">0.044</text>
<text x="371.16" y="495.1" text-anchor="middle" font-family="'DejaVu Sans Condensed', 'DejaVu Sans', sans-serif" font-size="8.4" fill="#111" stroke="#111" stroke-width="0.25" textLength="21.63" lengthAdjust="spacingAndGlyphs">0.049</text>
<text x="394.29" y="495.1" text-anchor="middle" font-family="'DejaVu Sans Condensed', 'DejaVu Sans', sans-serif" font-size="8.4" fill="#111" stroke="#111" stroke-width="0.25" textLength="21.63" lengthAdjust="spacingAndGlyphs">0.053</text>
<text x="417.42" y="495.1" text-anchor="middle" font-family="'DejaVu Sans Condensed', 'DejaVu Sans', sans-serif" font-size="8.4" fill="#111" stroke="#111" stroke-width="0.25" textLength="21.63" lengthAdjust="spacingAndGlyphs">0.058</text>
<text x="440.55" y="495.1" text-anchor="middle" font-family="'DejaVu Sans Condensed', 'DejaVu Sans', sans-serif" font-size="8.4" fill="#111" stroke="#111" stroke-width="0.25" textLength="21.63" lengthAdjust="spacingAndGlyphs">0.062</text>
<text x="463.68" y="495.1" text-anchor="middle" font-family="'DejaVu Sans Condensed', 'DejaVu Sans', sans-serif" font-size="8.4" fill="#111" stroke="#111" stroke-width="0.25" textLength="21.63" lengthAdjust="spacingAndGlyphs">0.067</text>
<text x="486.81" y="495.1" text-anchor="middle" font-family="'DejaVu Sans Condensed', 'DejaVu Sans', sans-serif" font-size="8.4" fill="#111" stroke="#111" stroke-width="0.25" textLength="21.63" lengthAdjust="spacingAndGlyphs">0.071</text>
<text x="509.94" y="495.1" text-anchor="middle" font-family="'DejaVu Sans Condensed', 'DejaVu Sans', sans-serif" font-size="8.4" fill="#111" stroke="#111" stroke-width="0.25" textLength="21.63" lengthAdjust="spacingAndGlyphs">0.076</text>
<text x="533.07" y="495.1" text-anchor="middle" font-family="'DejaVu Sans Condensed', 'DejaVu Sans', sans-serif" font-size="8.4" fill="#111" stroke="#111" stroke-width="0.25" textLength="16.82" lengthAdjust="spacingAndGlyphs">0.08</text>
<text x="428.8" y="504" text-anchor="middle" font-family="'DejaVu Sans', sans-serif" font-size="7.5" fill="#111" stroke="#111" stroke-width="0.25" textLength="81.9" lengthAdjust="spacingAndGlyphs">Arrival Rate (msg/ms)</text>
<text transform="translate(290.9,426.6) rotate(-90)" x="0" y="0" text-anchor="middle" font-family="'DejaVu Sans', sans-serif" font-size="8" fill="#111" stroke="#111" stroke-width="0.25" textLength="75.25" lengthAdjust="spacingAndGlyphs">Flow Rate (msg/ms)</text>
<text x="406.55" y="524.5" font-family="'Liberation Serif', 'DejaVu Serif', serif" font-size="14.3" fill="#000" textLength="13.9" lengthAdjust="spacingAndGlyphs">(<tspan font-weight="bold">f</tspan>)</text>
<path d="M324.9,428.9 C328.75,428.07 340.32,425.67 348.03,423.9 C355.74,422.13 363.45,420.33 371.16,418.3 C378.87,416.27 386.58,413.82 394.29,411.7 C402,409.58 409.71,407.72 417.42,405.6 C425.13,403.48 432.84,401.05 440.55,399 C448.26,396.95 455.97,395.15 463.68,393.3 C471.39,391.45 479.1,389.73 486.81,387.9 C494.52,386.07 502.23,384.23 509.94,382.3 C517.65,380.37 529.21,377.3 533.07,376.3" stroke="#383838" stroke-width="0.8" fill="none" stroke-opacity="0.8"/>
<rect x="323.8" y="427.8" width="2.2" height="2.2" fill="#000000" rx="0.66"/>
<rect x="346.93" y="422.8" width="2.2" height="2.2" fill="#000000" rx="0.66"/>
<rect x="370.06" y="417.2" width="2.2" height="2.2" fill="#000000" rx="0.66"/>
<rect x="393.19" y="410.6" width="2.2" height="2.2" fill="#000000" rx="0.66"/>
<rect x="416.32" y="404.5" width="2.2" height="2.2" fill="#000000" rx="0.66"/>
<rect x="439.45" y="397.9" width="2.2" height="2.2" fill="#000000" rx="0.66"/>
<rect x="462.58" y="392.2" width="2.2" height="2.2" fill="#000000" rx="0.66"/>
<rect x="485.71" y="386.8" width="2.2" height="2.2" fill="#000000" rx="0.66"/>
<rect x="508.84" y="381.2" width="2.2" height="2.2" fill="#000000" rx="0.66"/>
<rect x="531.97" y="375.2" width="2.2" height="2.2" fill="#000000" rx="0.66"/>
<path d="M324.9,428.9 C328.75,428.03 340.32,425.52 348.03,423.7 C355.74,421.88 363.45,419.93 371.16,418 C378.87,416.07 386.58,414.1 394.29,412.1 C402,410.1 409.71,408.02 417.42,406 C425.13,403.98 432.84,401.97 440.55,400 C448.26,398.03 455.97,396.18 463.68,394.2 C471.39,392.22 479.1,390.05 486.81,388.1 C494.52,386.15 502.23,384.47 509.94,382.5 C517.65,380.53 529.21,377.33 533.07,376.3" stroke="#ff4848" stroke-width="0.8" fill="none" stroke-opacity="0.8"/>
<rect x="323.6" y="427.6" width="2.6" height="2.6" fill="#ff0000" rx="0.78"/>
<rect x="346.73" y="422.4" width="2.6" height="2.6" fill="#ff0000" rx="0.78"/>
<rect x="369.86" y="416.7" width="2.6" height="2.6" fill="#ff0000" rx="0.78"/>
<rect x="392.99" y="410.8" width="2.6" height="2.6" fill="#ff0000" rx="0.78"/>
<rect x="416.12" y="404.7" width="2.6" height="2.6" fill="#ff0000" rx="0.78"/>
<rect x="439.25" y="398.7" width="2.6" height="2.6" fill="#ff0000" rx="0.78"/>
<rect x="462.38" y="392.9" width="2.6" height="2.6" fill="#ff0000" rx="0.78"/>
<rect x="485.51" y="386.8" width="2.6" height="2.6" fill="#ff0000" rx="0.78"/>
<rect x="508.64" y="381.2" width="2.6" height="2.6" fill="#ff0000" rx="0.78"/>
<rect x="531.77" y="375" width="2.6" height="2.6" fill="#ff0000" rx="0.78"/>
<path d="M324.9,428.9 C328.75,427.92 340.32,425.07 348.03,423 C355.74,420.93 363.45,418.38 371.16,416.5 C378.87,414.62 386.58,412.9 394.29,411.7 C402,410.5 409.71,409.9 417.42,409.3 C425.13,408.7 432.84,408.1 440.55,408.1 C448.26,408.1 455.97,409.22 463.68,409.3 C471.39,409.38 479.1,408.82 486.81,408.6 C494.52,408.38 502.23,408 509.94,408 C517.65,408 529.21,408.5 533.07,408.6" stroke="#40f040" stroke-width="0.8" fill="none" stroke-opacity="0.8"/>
<rect x="323.9" y="427.9" width="2" height="2" fill="#00ff00" rx="0.6"/>
<rect x="347.03" y="422" width="2" height="2" fill="#00ff00" rx="0.6"/>
<rect x="370.16" y="415.5" width="2" height="2" fill="#00ff00" rx="0.6"/>
<rect x="393.29" y="410.7" width="2" height="2" fill="#00ff00" rx="0.6"/>
<rect x="416.42" y="408.3" width="2" height="2" fill="#00ff00" rx="0.6"/>
<rect x="439.55" y="407.1" width="2" height="2" fill="#00ff00" rx="0.6"/>
<rect x="462.68" y="408.3" width="2" height="2" fill="#00ff00" rx="0.6"/>
<rect x="485.81" y="407.6" width="2" height="2" fill="#00ff00" rx="0.6"/>
<rect x="508.94" y="407" width="2" height="2" fill="#00ff00" rx="0.6"/>
<rect x="532.07" y="407.6" width="2" height="2" fill="#00ff00" rx="0.6"/>
<path d="M324.9,445.3 C328.75,445.3 340.32,445.27 348.03,445.3 C355.74,445.33 363.45,445.45 371.16,445.5 C378.87,445.55 386.58,445.58 394.29,445.6 C402,445.62 409.71,445.65 417.42,445.6 C425.13,445.55 432.84,445.28 440.55,445.3 C448.26,445.32 455.97,445.65 463.68,445.7 C471.39,445.75 479.1,445.63 486.81,445.6 C494.52,445.57 502.23,445.53 509.94,445.5 C517.65,445.47 529.21,445.42 533.07,445.4" stroke="#6a6af2" stroke-width="0.8" fill="none" stroke-opacity="0.8"/>
<rect x="323.9" y="444.3" width="2" height="2" fill="#0000ff" rx="0.6"/>
<rect x="347.03" y="444.3" width="2" height="2" fill="#0000ff" rx="0.6"/>
<rect x="370.16" y="444.5" width="2" height="2" fill="#0000ff" rx="0.6"/>
<rect x="393.29" y="444.6" width="2" height="2" fill="#0000ff" rx="0.6"/>
<rect x="416.42" y="444.6" width="2" height="2" fill="#0000ff" rx="0.6"/>
<rect x="439.55" y="444.3" width="2" height="2" fill="#0000ff" rx="0.6"/>
<rect x="462.68" y="444.7" width="2" height="2" fill="#0000ff" rx="0.6"/>
<rect x="485.81" y="444.6" width="2" height="2" fill="#0000ff" rx="0.6"/>
<rect x="508.94" y="444.5" width="2" height="2" fill="#0000ff" rx="0.6"/>
<rect x="532.07" y="444.4" width="2" height="2" fill="#0000ff" rx="0.6"/>
<rect x="316.4" y="372.4" width="46.4" height="39.9" fill="#fff" stroke="#909090" stroke-width="0.8"/>
<line x1="319.4" y1="378.6" x2="330.6" y2="378.6" stroke="#383838" stroke-width="0.8" stroke-opacity="0.6"/>
<rect x="324" y="377.6" width="2" height="2" fill="#000000"/>
<text x="333.3" y="381.05" text-anchor="start" font-family="'DejaVu Sans', sans-serif" font-size="6.8" fill="#111" stroke="#111" stroke-width="0.25" textLength="25.77" lengthAdjust="spacingAndGlyphs">8 Cores</text>
<line x1="319.4" y1="388" x2="330.6" y2="388" stroke="#ff4848" stroke-width="0.8" stroke-opacity="0.6"/>
<rect x="324" y="387" width="2" height="2" fill="#ff0000"/>
<text x="333.3" y="390.45" text-anchor="start" font-family="'DejaVu Sans', sans-serif" font-size="6.8" fill="#111" stroke="#111" stroke-width="0.25" textLength="25.77" lengthAdjust="spacingAndGlyphs">4 Cores</text>
<line x1="319.4" y1="397.2" x2="330.6" y2="397.2" stroke="#40f040" stroke-width="0.8" stroke-opacity="0.6"/>
<rect x="324" y="396.2" width="2" height="2" fill="#00ff00"/>
<text x="333.3" y="399.65" text-anchor="start" font-family="'DejaVu Sans', sans-serif" font-size="6.8" fill="#111" stroke="#111" stroke-width="0.25" textLength="25.77" lengthAdjust="spacingAndGlyphs">2 Cores</text>
<line x1="319.4" y1="406.3" x2="330.6" y2="406.3" stroke="#6a6af2" stroke-width="0.8" stroke-opacity="0.6"/>
<rect x="324" y="405.3" width="2" height="2" fill="#0000ff"/>
<text x="333.3" y="408.75" text-anchor="start" font-family="'DejaVu Sans', sans-serif" font-size="6.8" fill="#111" stroke="#111" stroke-width="0.25" textLength="22.23" lengthAdjust="spacingAndGlyphs">1 Core</text>
</svg>
</body></html>
